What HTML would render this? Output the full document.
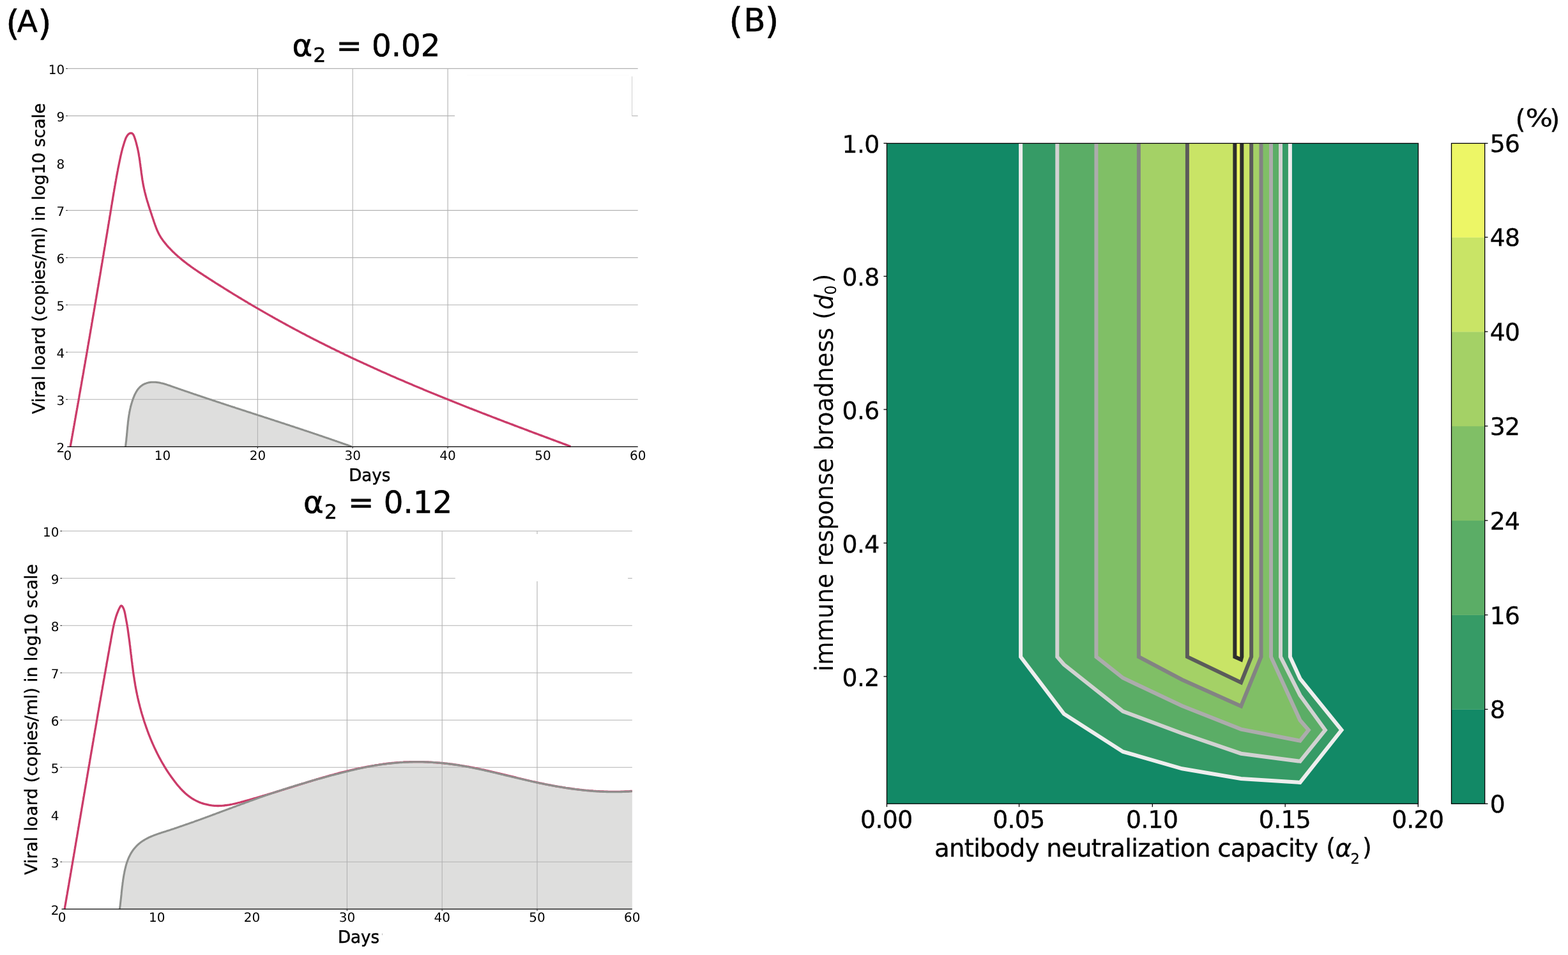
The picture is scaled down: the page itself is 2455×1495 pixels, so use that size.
<!DOCTYPE html>
<html lang="en"><head><meta charset="utf-8"><title>Figure</title>
<style>html,body{margin:0;padding:0;background:#fff;overflow:hidden;}svg{display:block;}text{font-family:"DejaVu Sans", "Liberation Sans", sans-serif;fill:#000;}</style></head><body>
<svg width="2455" height="1495" viewBox="0 0 2455 1495" text-rendering="geometricPrecision">
<rect x="0" y="0" width="2455" height="1495" fill="#ffffff"/>
<g>
<path d="M196.4,699.3 L196.5,698.4 L196.7,697.5 L196.8,696.6 L196.9,695.7 L197.0,694.8 L197.1,693.9 L197.2,693.0 L197.3,692.1 L197.5,691.2 L197.6,690.3 L197.7,689.4 L197.8,688.5 L197.8,687.6 L197.9,686.7 L198.0,685.8 L198.1,684.9 L198.2,684.0 L198.3,683.1 L198.4,682.3 L198.5,681.4 L198.6,680.5 L198.6,679.6 L198.7,678.7 L198.8,677.8 L198.9,676.9 L199.0,676.0 L199.0,675.1 L199.1,674.3 L199.2,673.4 L199.3,672.5 L199.4,671.6 L199.5,670.7 L199.5,669.8 L199.6,668.9 L199.7,668.1 L199.8,667.2 L199.9,666.3 L200.0,665.4 L200.1,664.5 L200.2,663.6 L200.3,662.8 L200.3,661.9 L200.4,661.0 L200.5,660.1 L200.7,659.2 L200.8,658.4 L200.9,657.5 L201.0,656.6 L201.1,655.7 L201.2,654.8 L201.3,654.0 L201.5,653.1 L201.6,652.2 L201.7,651.3 L201.8,650.5 L202.0,649.6 L202.1,648.7 L202.3,647.8 L202.4,647.0 L202.6,646.1 L202.7,645.2 L202.9,644.3 L203.1,643.4 L203.3,642.6 L203.4,641.7 L203.6,640.8 L203.8,639.9 L204.0,639.1 L204.2,638.2 L204.4,637.3 L204.6,636.5 L204.9,635.6 L205.1,634.7 L205.3,633.8 L205.6,633.0 L205.8,632.1 L206.1,631.2 L206.3,630.3 L206.6,629.5 L206.9,628.6 L207.2,627.7 L207.5,626.8 L207.7,626.0 L208.1,625.1 L208.4,624.2 L208.7,623.4 L209.0,622.5 L209.4,621.6 L209.7,620.8 L210.1,619.9 L210.5,619.0 L210.8,618.2 L211.2,617.3 L211.6,616.5 L212.1,615.7 L212.5,614.9 L212.9,614.1 L213.4,613.3 L213.9,612.5 L214.3,611.7 L214.8,611.0 L215.3,610.2 L215.9,609.5 L216.4,608.8 L217.0,608.1 L217.6,607.5 L218.2,606.8 L218.8,606.2 L219.4,605.6 L220.1,605.0 L220.7,604.4 L221.4,603.9 L222.1,603.4 L222.8,602.9 L223.6,602.4 L224.3,602.0 L225.1,601.6 L225.9,601.2 L226.7,600.8 L227.5,600.5 L228.4,600.2 L229.2,599.9 L230.0,599.6 L230.9,599.4 L231.7,599.1 L232.6,598.9 L233.4,598.8 L234.3,598.6 L235.1,598.5 L236.0,598.4 L236.8,598.3 L237.7,598.2 L238.5,598.2 L239.4,598.2 L240.2,598.2 L241.1,598.2 L242.0,598.2 L242.8,598.2 L243.7,598.3 L244.5,598.4 L245.4,598.5 L246.3,598.6 L247.1,598.7 L248.0,598.8 L248.9,599.0 L249.7,599.1 L250.6,599.3 L251.5,599.5 L252.3,599.7 L253.2,599.9 L254.1,600.1 L254.9,600.3 L255.8,600.6 L256.7,600.8 L257.5,601.0 L258.4,601.3 L259.3,601.6 L260.1,601.8 L261.0,602.1 L261.9,602.4 L262.7,602.7 L263.6,603.0 L264.5,603.3 L265.3,603.5 L266.2,603.8 L267.1,604.1 L268.0,604.5 L268.8,604.8 L269.7,605.1 L270.6,605.4 L271.4,605.7 L272.3,606.0 L273.2,606.3 L274.0,606.6 L274.9,606.9 L275.8,607.2 L276.6,607.5 L277.5,607.8 L278.4,608.1 L279.2,608.4 L280.1,608.7 L280.9,609.0 L281.8,609.3 L282.7,609.6 L283.5,609.9 L284.4,610.2 L285.3,610.5 L286.1,610.8 L287.0,611.1 L287.9,611.4 L288.7,611.7 L289.6,612.0 L290.4,612.3 L291.3,612.6 L292.2,612.9 L293.0,613.1 L293.9,613.4 L294.7,613.7 L295.6,614.0 L296.5,614.3 L297.3,614.6 L298.2,614.9 L299.0,615.2 L299.9,615.5 L300.7,615.8 L301.6,616.1 L302.5,616.4 L303.3,616.7 L304.2,617.0 L305.0,617.2 L305.9,617.5 L306.7,617.8 L307.6,618.1 L308.5,618.4 L309.3,618.7 L310.2,619.0 L311.0,619.3 L311.9,619.6 L312.7,619.8 L313.6,620.1 L314.4,620.4 L315.3,620.7 L316.2,621.0 L317.0,621.3 L317.9,621.6 L318.7,621.9 L319.6,622.1 L320.4,622.4 L321.3,622.7 L322.1,623.0 L323.0,623.3 L323.8,623.6 L324.7,623.9 L325.5,624.1 L326.4,624.4 L327.2,624.7 L328.1,625.0 L328.9,625.3 L329.8,625.6 L330.6,625.8 L331.5,626.1 L332.3,626.4 L333.2,626.7 L334.0,627.0 L334.9,627.3 L335.7,627.5 L336.6,627.8 L337.4,628.1 L338.3,628.4 L339.1,628.7 L340.0,628.9 L340.8,629.2 L341.7,629.5 L342.5,629.8 L343.4,630.1 L344.2,630.3 L345.1,630.6 L345.9,630.9 L346.8,631.2 L347.6,631.5 L348.5,631.7 L349.3,632.0 L350.1,632.3 L351.0,632.6 L351.8,632.9 L352.7,633.1 L353.5,633.4 L354.4,633.7 L355.2,634.0 L356.1,634.2 L356.9,634.5 L357.8,634.8 L358.6,635.1 L359.5,635.4 L360.3,635.6 L361.1,635.9 L362.0,636.2 L362.8,636.5 L363.7,636.7 L364.5,637.0 L365.4,637.3 L366.2,637.6 L367.1,637.8 L367.9,638.1 L368.7,638.4 L369.6,638.7 L370.4,638.9 L371.3,639.2 L372.1,639.5 L373.0,639.8 L373.8,640.0 L374.6,640.3 L375.5,640.6 L376.3,640.9 L377.2,641.1 L378.0,641.4 L378.9,641.7 L379.7,642.0 L380.5,642.2 L381.4,642.5 L382.2,642.8 L383.1,643.1 L383.9,643.3 L384.8,643.6 L385.6,643.9 L386.4,644.2 L387.3,644.4 L388.1,644.7 L389.0,645.0 L389.8,645.3 L390.7,645.5 L391.5,645.8 L392.3,646.1 L393.2,646.3 L394.0,646.6 L394.9,646.9 L395.7,647.2 L396.6,647.4 L397.4,647.7 L398.2,648.0 L399.1,648.3 L399.9,648.5 L400.8,648.8 L401.6,649.1 L402.4,649.4 L403.3,649.6 L404.1,649.9 L405.0,650.2 L405.8,650.4 L406.7,650.7 L407.5,651.0 L408.3,651.3 L409.2,651.5 L410.0,651.8 L410.9,652.1 L411.7,652.4 L412.5,652.6 L413.4,652.9 L414.2,653.2 L415.1,653.5 L415.9,653.7 L416.8,654.0 L417.6,654.3 L418.4,654.6 L419.3,654.8 L420.1,655.1 L421.0,655.4 L421.8,655.6 L422.7,655.9 L423.5,656.2 L424.3,656.5 L425.2,656.7 L426.0,657.0 L426.9,657.3 L427.7,657.6 L428.5,657.8 L429.4,658.1 L430.2,658.4 L431.1,658.7 L431.9,658.9 L432.8,659.2 L433.6,659.5 L434.4,659.8 L435.3,660.0 L436.1,660.3 L437.0,660.6 L437.8,660.9 L438.7,661.1 L439.5,661.4 L440.3,661.7 L441.2,662.0 L442.0,662.2 L442.9,662.5 L443.7,662.8 L444.6,663.1 L445.4,663.3 L446.2,663.6 L447.1,663.9 L447.9,664.2 L448.8,664.4 L449.6,664.7 L450.5,665.0 L451.3,665.3 L452.2,665.6 L453.0,665.8 L453.8,666.1 L454.7,666.4 L455.5,666.7 L456.4,666.9 L457.2,667.2 L458.1,667.5 L458.9,667.8 L459.8,668.1 L460.6,668.3 L461.4,668.6 L462.3,668.9 L463.1,669.2 L464.0,669.5 L464.8,669.7 L465.7,670.0 L466.5,670.3 L467.4,670.6 L468.2,670.9 L469.1,671.1 L469.9,671.4 L470.8,671.7 L471.6,672.0 L472.5,672.3 L473.3,672.5 L474.1,672.8 L475.0,673.1 L475.8,673.4 L476.7,673.7 L477.5,673.9 L478.4,674.2 L479.2,674.5 L480.1,674.8 L480.9,675.1 L481.8,675.4 L482.6,675.6 L483.5,675.9 L484.3,676.2 L485.2,676.5 L486.0,676.8 L486.9,677.1 L487.7,677.4 L488.6,677.6 L489.4,677.9 L490.3,678.2 L491.1,678.5 L492.0,678.8 L492.8,679.1 L493.7,679.4 L494.5,679.6 L495.4,679.9 L496.2,680.2 L497.1,680.5 L497.9,680.8 L498.8,681.1 L499.6,681.4 L500.5,681.7 L501.4,682.0 L502.2,682.2 L503.1,682.5 L503.9,682.8 L504.8,683.1 L505.6,683.4 L506.5,683.7 L507.3,684.0 L508.2,684.3 L509.0,684.6 L509.9,684.9 L510.8,685.2 L511.6,685.5 L512.5,685.7 L513.3,686.0 L514.2,686.3 L515.0,686.6 L515.9,686.9 L516.8,687.2 L517.6,687.5 L518.5,687.8 L519.3,688.1 L520.2,688.4 L521.0,688.7 L521.9,689.0 L522.8,689.3 L523.6,689.6 L524.5,689.9 L525.3,690.2 L526.2,690.5 L527.1,690.8 L527.9,691.1 L528.8,691.4 L529.6,691.7 L530.5,692.0 L531.4,692.3 L532.2,692.6 L533.1,692.9 L534.0,693.2 L534.8,693.5 L535.7,693.8 L536.5,694.1 L537.4,694.4 L538.3,694.7 L539.1,695.0 L540.0,695.3 L540.9,695.6 L541.7,695.9 L542.6,696.2 L543.5,696.5 L544.3,696.8 L545.2,697.1 L546.1,697.5 L546.9,697.8 L547.8,698.1 L548.7,698.4 L549.5,698.7 L550.4,699.0 L550.4,699.3 L196.4,699.3Z" fill="#dededd" stroke="none"/>
<line x1="105.8" y1="625.3" x2="998.7" y2="625.3" stroke="#b2b2b2" stroke-width="1.1"/>
<line x1="105.8" y1="551.3" x2="998.7" y2="551.3" stroke="#b2b2b2" stroke-width="1.1"/>
<line x1="105.8" y1="477.3" x2="998.7" y2="477.3" stroke="#b2b2b2" stroke-width="1.1"/>
<line x1="105.8" y1="403.4" x2="998.7" y2="403.4" stroke="#b2b2b2" stroke-width="1.1"/>
<line x1="105.8" y1="329.4" x2="998.7" y2="329.4" stroke="#b2b2b2" stroke-width="1.1"/>
<line x1="105.8" y1="181.4" x2="712.0" y2="181.4" stroke="#b2b2b2" stroke-width="1.1"/>
<line x1="989.2" y1="181.4" x2="998.7" y2="181.4" stroke="#b2b2b2" stroke-width="1.1"/>
<line x1="105.8" y1="107.4" x2="998.7" y2="107.4" stroke="#b2b2b2" stroke-width="1.1"/>
<line x1="403.4" y1="107.4" x2="403.4" y2="699.3" stroke="#b2b2b2" stroke-width="1.1"/>
<line x1="552.2" y1="107.4" x2="552.2" y2="699.3" stroke="#b2b2b2" stroke-width="1.1"/>
<line x1="701.1" y1="107.4" x2="701.1" y2="699.3" stroke="#b2b2b2" stroke-width="1.1"/>
<line x1="989.6" y1="119.6" x2="989.6" y2="181.4" stroke="#cfcfcf" stroke-width="1"/>
<line x1="731" y1="117.5" x2="985" y2="117.5" stroke="#fbfbfb" stroke-width="1"/>
<path d="M110.1,699.3 L110.5,697.3 L110.8,695.3 L111.2,693.4 L111.5,691.4 L111.9,689.4 L112.2,687.4 L112.6,685.5 L112.9,683.5 L113.3,681.5 L113.6,679.5 L114.0,677.6 L114.3,675.6 L114.7,673.6 L115.0,671.6 L115.4,669.6 L115.7,667.7 L116.1,665.7 L116.4,663.7 L116.8,661.7 L117.1,659.8 L117.5,657.8 L117.8,655.8 L118.2,653.8 L118.5,651.9 L118.9,649.9 L119.2,647.9 L119.6,645.9 L119.9,644.0 L120.3,642.0 L120.6,640.0 L121.0,638.0 L121.3,636.1 L121.7,634.1 L122.0,632.1 L122.4,630.1 L122.7,628.2 L123.1,626.2 L123.4,624.2 L123.8,622.2 L124.1,620.3 L124.4,618.3 L124.8,616.3 L125.1,614.4 L125.5,612.4 L125.8,610.4 L126.2,608.4 L126.5,606.5 L126.9,604.5 L127.2,602.5 L127.6,600.5 L127.9,598.6 L128.2,596.6 L128.6,594.6 L128.9,592.6 L129.3,590.7 L129.6,588.7 L130.0,586.7 L130.3,584.7 L130.7,582.8 L131.0,580.8 L131.3,578.8 L131.7,576.8 L132.0,574.9 L132.4,572.9 L132.7,570.9 L133.1,569.0 L133.4,567.0 L133.7,565.0 L134.1,563.0 L134.4,561.1 L134.8,559.1 L135.1,557.1 L135.5,555.1 L135.8,553.2 L136.1,551.2 L136.5,549.2 L136.8,547.2 L137.2,545.3 L137.5,543.3 L137.8,541.3 L138.2,539.3 L138.5,537.4 L138.9,535.4 L139.2,533.4 L139.5,531.5 L139.9,529.5 L140.2,527.5 L140.6,525.5 L140.9,523.6 L141.2,521.6 L141.6,519.6 L141.9,517.6 L142.2,515.7 L142.6,513.7 L142.9,511.7 L143.3,509.7 L143.6,507.8 L143.9,505.8 L144.3,503.8 L144.6,501.8 L144.9,499.9 L145.3,497.9 L145.6,495.9 L146.0,493.9 L146.3,492.0 L146.6,490.0 L147.0,488.0 L147.3,486.0 L147.6,484.1 L148.0,482.1 L148.3,480.1 L148.6,478.1 L149.0,476.2 L149.3,474.2 L149.7,472.2 L150.0,470.2 L150.3,468.3 L150.7,466.3 L151.0,464.3 L151.3,462.3 L151.7,460.4 L152.0,458.4 L152.3,456.4 L152.7,454.4 L153.0,452.5 L153.3,450.5 L153.7,448.5 L154.0,446.5 L154.3,444.6 L154.7,442.6 L155.0,440.6 L155.3,438.6 L155.7,436.7 L156.0,434.7 L156.3,432.7 L156.7,430.7 L157.0,428.8 L157.3,426.8 L157.7,424.8 L158.0,422.8 L158.3,420.8 L158.6,418.9 L159.0,416.9 L159.3,414.9 L159.6,412.9 L160.0,411.0 L160.3,409.0 L160.6,407.0 L161.0,405.0 L161.3,403.0 L161.6,401.1 L162.0,399.1 L162.3,397.1 L162.6,395.1 L162.9,393.1 L163.3,391.2 L163.6,389.2 L163.9,387.2 L164.3,385.2 L164.6,383.2 L164.9,381.3 L165.3,379.3 L165.6,377.3 L165.9,375.3 L166.2,373.3 L166.6,371.4 L166.9,369.4 L167.2,367.4 L167.6,365.4 L167.9,363.4 L168.2,361.5 L168.5,359.5 L168.9,357.5 L169.2,355.5 L169.5,353.5 L169.8,351.5 L170.2,349.6 L170.5,347.6 L170.8,345.6 L171.2,343.6 L171.5,341.6 L171.8,339.6 L172.1,337.7 L172.5,335.7 L172.8,333.7 L173.1,331.7 L173.4,329.7 L173.8,327.7 L174.1,325.8 L174.4,323.8 L174.7,321.8 L175.1,319.8 L175.4,317.8 L175.7,315.8 L176.1,313.9 L176.4,311.9 L176.7,309.9 L177.0,307.9 L177.4,305.9 L177.7,303.9 L178.0,302.0 L178.4,300.0 L178.7,298.0 L179.0,296.0 L179.4,294.1 L179.7,292.1 L180.1,290.1 L180.4,288.1 L180.8,286.2 L181.1,284.2 L181.5,282.2 L181.8,280.3 L182.2,278.3 L182.5,276.3 L182.9,274.4 L183.3,272.4 L183.6,270.5 L184.0,268.5 L184.4,266.6 L184.7,264.6 L185.1,262.7 L185.5,260.7 L185.9,258.8 L186.3,256.9 L186.7,254.9 L187.1,253.0 L187.5,251.1 L187.9,249.2 L188.3,247.2 L188.7,245.3 L189.1,243.4 L189.6,241.5 L190.0,239.5 L190.5,237.6 L191.0,235.6 L191.5,233.7 L192.0,231.7 L192.6,229.7 L193.2,227.7 L193.8,225.7 L194.5,223.6 L195.1,221.5 L195.9,219.4 L196.6,217.3 L197.5,215.3 L198.5,213.5 L199.6,211.8 L200.8,210.4 L202.2,209.3 L203.8,208.5 L205.4,208.3 L206.7,208.7 L207.9,209.6 L208.9,211.0 L209.7,212.7 L210.5,214.6 L211.1,216.6 L211.8,218.6 L212.4,220.6 L213.0,222.6 L213.5,224.6 L214.0,226.6 L214.5,228.6 L215.0,230.6 L215.5,232.5 L215.9,234.5 L216.3,236.5 L216.7,238.5 L217.1,240.5 L217.4,242.5 L217.7,244.5 L218.1,246.5 L218.4,248.5 L218.7,250.4 L219.0,252.4 L219.2,254.4 L219.5,256.4 L219.8,258.4 L220.0,260.4 L220.3,262.3 L220.6,264.3 L220.8,266.3 L221.1,268.3 L221.3,270.2 L221.6,272.2 L221.9,274.2 L222.2,276.1 L222.4,278.1 L222.7,280.1 L223.0,282.0 L223.4,284.0 L223.7,286.0 L224.0,287.9 L224.4,289.9 L224.8,291.8 L225.2,293.8 L225.6,295.7 L226.1,297.7 L226.5,299.6 L227.0,301.6 L227.5,303.5 L228.0,305.5 L228.5,307.4 L229.0,309.4 L229.6,311.3 L230.1,313.2 L230.7,315.2 L231.3,317.1 L231.9,319.0 L232.5,321.0 L233.1,322.9 L233.7,324.8 L234.3,326.7 L235.0,328.7 L235.6,330.6 L236.2,332.5 L236.9,334.4 L237.5,336.3 L238.1,338.2 L238.8,340.2 L239.4,342.1 L240.1,344.0 L240.7,345.9 L241.3,347.8 L242.0,349.7 L242.6,351.5 L243.3,353.4 L244.0,355.3 L244.7,357.1 L245.4,359.0 L246.2,360.8 L247.0,362.6 L247.9,364.4 L248.8,366.2 L249.7,368.0 L250.7,369.7 L251.7,371.4 L252.8,373.1 L254.0,374.7 L255.2,376.4 L256.4,378.0 L257.7,379.6 L258.9,381.2 L260.2,382.7 L261.5,384.3 L262.9,385.8 L264.2,387.3 L265.6,388.7 L267.0,390.2 L268.4,391.6 L269.8,393.1 L271.2,394.5 L272.7,395.8 L274.1,397.2 L275.6,398.6 L277.1,399.9 L278.5,401.2 L280.1,402.5 L281.6,403.8 L283.1,405.1 L284.6,406.4 L286.2,407.6 L287.8,408.9 L289.3,410.1 L290.9,411.3 L292.5,412.6 L294.1,413.8 L295.7,414.9 L297.3,416.1 L298.9,417.3 L300.6,418.5 L302.2,419.6 L303.8,420.8 L305.5,421.9 L307.1,423.0 L308.8,424.2 L310.5,425.3 L312.1,426.4 L313.8,427.5 L315.5,428.6 L317.2,429.7 L318.8,430.8 L320.5,431.9 L322.2,433.0 L323.9,434.1 L325.6,435.2 L327.3,436.3 L329.0,437.4 L330.6,438.4 L332.3,439.5 L334.0,440.6 L335.7,441.7 L337.4,442.8 L339.1,443.8 L340.8,444.9 L342.5,446.0 L344.2,447.0 L345.9,448.1 L347.6,449.2 L349.3,450.2 L351.0,451.3 L352.7,452.4 L354.4,453.4 L356.1,454.5 L357.8,455.5 L359.5,456.6 L361.2,457.7 L362.9,458.7 L364.7,459.8 L366.4,460.8 L368.1,461.8 L369.8,462.9 L371.5,463.9 L373.2,465.0 L374.9,466.0 L376.7,467.0 L378.4,468.1 L380.1,469.1 L381.8,470.1 L383.5,471.2 L385.3,472.2 L387.0,473.2 L388.7,474.3 L390.4,475.3 L392.2,476.3 L393.9,477.3 L395.6,478.3 L397.3,479.3 L399.1,480.4 L400.8,481.4 L402.5,482.4 L404.3,483.4 L406.0,484.4 L407.7,485.4 L409.5,486.4 L411.2,487.4 L412.9,488.4 L414.7,489.4 L416.4,490.4 L418.2,491.4 L419.9,492.4 L421.7,493.4 L423.4,494.4 L425.1,495.3 L426.9,496.3 L428.6,497.3 L430.4,498.3 L432.1,499.3 L433.9,500.2 L435.6,501.2 L437.4,502.2 L439.1,503.2 L440.9,504.1 L442.7,505.1 L444.4,506.1 L446.2,507.0 L447.9,508.0 L449.7,509.0 L451.4,509.9 L453.2,510.9 L455.0,511.8 L456.7,512.8 L458.5,513.7 L460.3,514.7 L462.0,515.6 L463.8,516.6 L465.6,517.5 L467.3,518.4 L469.1,519.4 L470.9,520.3 L472.6,521.3 L474.4,522.2 L476.2,523.1 L478.0,524.0 L479.7,525.0 L481.5,525.9 L483.3,526.8 L485.1,527.7 L486.9,528.7 L488.6,529.6 L490.4,530.5 L492.2,531.4 L494.0,532.3 L495.8,533.2 L497.6,534.1 L499.3,535.0 L501.1,535.9 L502.9,536.8 L504.7,537.7 L506.5,538.6 L508.3,539.5 L510.1,540.4 L511.9,541.3 L513.7,542.2 L515.5,543.1 L517.3,544.0 L519.1,544.9 L520.9,545.8 L522.7,546.6 L524.5,547.5 L526.3,548.4 L528.1,549.3 L529.9,550.1 L531.7,551.0 L533.5,551.9 L535.3,552.8 L537.1,553.6 L538.9,554.5 L540.7,555.4 L542.5,556.2 L544.3,557.1 L546.1,557.9 L547.9,558.8 L549.7,559.7 L551.6,560.5 L553.4,561.4 L555.2,562.2 L557.0,563.1 L558.8,563.9 L560.6,564.8 L562.4,565.6 L564.3,566.4 L566.1,567.3 L567.9,568.1 L569.7,569.0 L571.5,569.8 L573.4,570.6 L575.2,571.5 L577.0,572.3 L578.8,573.1 L580.7,574.0 L582.5,574.8 L584.3,575.6 L586.1,576.4 L588.0,577.3 L589.8,578.1 L591.6,578.9 L593.4,579.7 L595.3,580.6 L597.1,581.4 L598.9,582.2 L600.8,583.0 L602.6,583.8 L604.4,584.6 L606.3,585.4 L608.1,586.2 L609.9,587.0 L611.8,587.9 L613.6,588.7 L615.5,589.5 L617.3,590.3 L619.1,591.1 L621.0,591.9 L622.8,592.7 L624.6,593.5 L626.5,594.2 L628.3,595.0 L630.2,595.8 L632.0,596.6 L633.9,597.4 L635.7,598.2 L637.5,599.0 L639.4,599.8 L641.2,600.6 L643.1,601.3 L644.9,602.1 L646.8,602.9 L648.6,603.7 L650.5,604.5 L652.3,605.2 L654.2,606.0 L656.0,606.8 L657.9,607.6 L659.7,608.3 L661.6,609.1 L663.4,609.9 L665.3,610.7 L667.1,611.4 L669.0,612.2 L670.8,613.0 L672.7,613.7 L674.5,614.5 L676.4,615.3 L678.3,616.0 L680.1,616.8 L682.0,617.5 L683.8,618.3 L685.7,619.1 L687.5,619.8 L689.4,620.6 L691.3,621.3 L693.1,622.1 L695.0,622.8 L696.8,623.6 L698.7,624.3 L700.6,625.1 L702.4,625.8 L704.3,626.6 L706.1,627.3 L708.0,628.1 L709.9,628.8 L711.7,629.6 L713.6,630.3 L715.5,631.1 L717.3,631.8 L719.2,632.5 L721.0,633.3 L722.9,634.0 L724.8,634.8 L726.6,635.5 L728.5,636.2 L730.4,637.0 L732.2,637.7 L734.1,638.4 L736.0,639.2 L737.8,639.9 L739.7,640.6 L741.6,641.4 L743.5,642.1 L745.3,642.8 L747.2,643.6 L749.1,644.3 L750.9,645.0 L752.8,645.7 L754.7,646.5 L756.5,647.2 L758.4,647.9 L760.3,648.6 L762.2,649.4 L764.0,650.1 L765.9,650.8 L767.8,651.5 L769.6,652.3 L771.5,653.0 L773.4,653.7 L775.3,654.4 L777.1,655.1 L779.0,655.9 L780.9,656.6 L782.7,657.3 L784.6,658.0 L786.5,658.7 L788.4,659.4 L790.2,660.2 L792.1,660.9 L794.0,661.6 L795.9,662.3 L797.7,663.0 L799.6,663.7 L801.5,664.4 L803.4,665.1 L805.2,665.9 L807.1,666.6 L809.0,667.3 L810.9,668.0 L812.7,668.7 L814.6,669.4 L816.5,670.1 L818.4,670.8 L820.2,671.5 L822.1,672.2 L824.0,672.9 L825.9,673.6 L827.7,674.4 L829.6,675.1 L831.5,675.8 L833.4,676.5 L835.2,677.2 L837.1,677.9 L839.0,678.6 L840.9,679.3 L842.8,680.0 L844.6,680.7 L846.5,681.4 L848.4,682.1 L850.3,682.8 L852.1,683.5 L854.0,684.2 L855.9,684.9 L857.8,685.6 L859.6,686.3 L861.5,687.0 L863.4,687.7 L865.3,688.4 L867.1,689.1 L869.0,689.8 L870.9,690.5 L872.8,691.2 L874.6,691.9 L876.5,692.6 L878.4,693.3 L880.3,694.0 L882.1,694.7 L884.0,695.4 L885.9,696.1 L887.8,696.8 L889.7,697.5 L891.5,698.2 L893.4,698.9" fill="none" stroke="#cb3b69" stroke-width="3.3" stroke-linejoin="round"/>
<path d="M196.4,699.3 L196.5,698.4 L196.7,697.5 L196.8,696.6 L196.9,695.7 L197.0,694.8 L197.1,693.9 L197.2,693.0 L197.3,692.1 L197.5,691.2 L197.6,690.3 L197.7,689.4 L197.8,688.5 L197.8,687.6 L197.9,686.7 L198.0,685.8 L198.1,684.9 L198.2,684.0 L198.3,683.1 L198.4,682.3 L198.5,681.4 L198.6,680.5 L198.6,679.6 L198.7,678.7 L198.8,677.8 L198.9,676.9 L199.0,676.0 L199.0,675.1 L199.1,674.3 L199.2,673.4 L199.3,672.5 L199.4,671.6 L199.5,670.7 L199.5,669.8 L199.6,668.9 L199.7,668.1 L199.8,667.2 L199.9,666.3 L200.0,665.4 L200.1,664.5 L200.2,663.6 L200.3,662.8 L200.3,661.9 L200.4,661.0 L200.5,660.1 L200.7,659.2 L200.8,658.4 L200.9,657.5 L201.0,656.6 L201.1,655.7 L201.2,654.8 L201.3,654.0 L201.5,653.1 L201.6,652.2 L201.7,651.3 L201.8,650.5 L202.0,649.6 L202.1,648.7 L202.3,647.8 L202.4,647.0 L202.6,646.1 L202.7,645.2 L202.9,644.3 L203.1,643.4 L203.3,642.6 L203.4,641.7 L203.6,640.8 L203.8,639.9 L204.0,639.1 L204.2,638.2 L204.4,637.3 L204.6,636.5 L204.9,635.6 L205.1,634.7 L205.3,633.8 L205.6,633.0 L205.8,632.1 L206.1,631.2 L206.3,630.3 L206.6,629.5 L206.9,628.6 L207.2,627.7 L207.5,626.8 L207.7,626.0 L208.1,625.1 L208.4,624.2 L208.7,623.4 L209.0,622.5 L209.4,621.6 L209.7,620.8 L210.1,619.9 L210.5,619.0 L210.8,618.2 L211.2,617.3 L211.6,616.5 L212.1,615.7 L212.5,614.9 L212.9,614.1 L213.4,613.3 L213.9,612.5 L214.3,611.7 L214.8,611.0 L215.3,610.2 L215.9,609.5 L216.4,608.8 L217.0,608.1 L217.6,607.5 L218.2,606.8 L218.8,606.2 L219.4,605.6 L220.1,605.0 L220.7,604.4 L221.4,603.9 L222.1,603.4 L222.8,602.9 L223.6,602.4 L224.3,602.0 L225.1,601.6 L225.9,601.2 L226.7,600.8 L227.5,600.5 L228.4,600.2 L229.2,599.9 L230.0,599.6 L230.9,599.4 L231.7,599.1 L232.6,598.9 L233.4,598.8 L234.3,598.6 L235.1,598.5 L236.0,598.4 L236.8,598.3 L237.7,598.2 L238.5,598.2 L239.4,598.2 L240.2,598.2 L241.1,598.2 L242.0,598.2 L242.8,598.2 L243.7,598.3 L244.5,598.4 L245.4,598.5 L246.3,598.6 L247.1,598.7 L248.0,598.8 L248.9,599.0 L249.7,599.1 L250.6,599.3 L251.5,599.5 L252.3,599.7 L253.2,599.9 L254.1,600.1 L254.9,600.3 L255.8,600.6 L256.7,600.8 L257.5,601.0 L258.4,601.3 L259.3,601.6 L260.1,601.8 L261.0,602.1 L261.9,602.4 L262.7,602.7 L263.6,603.0 L264.5,603.3 L265.3,603.5 L266.2,603.8 L267.1,604.1 L268.0,604.5 L268.8,604.8 L269.7,605.1 L270.6,605.4 L271.4,605.7 L272.3,606.0 L273.2,606.3 L274.0,606.6 L274.9,606.9 L275.8,607.2 L276.6,607.5 L277.5,607.8 L278.4,608.1 L279.2,608.4 L280.1,608.7 L280.9,609.0 L281.8,609.3 L282.7,609.6 L283.5,609.9 L284.4,610.2 L285.3,610.5 L286.1,610.8 L287.0,611.1 L287.9,611.4 L288.7,611.7 L289.6,612.0 L290.4,612.3 L291.3,612.6 L292.2,612.9 L293.0,613.1 L293.9,613.4 L294.7,613.7 L295.6,614.0 L296.5,614.3 L297.3,614.6 L298.2,614.9 L299.0,615.2 L299.9,615.5 L300.7,615.8 L301.6,616.1 L302.5,616.4 L303.3,616.7 L304.2,617.0 L305.0,617.2 L305.9,617.5 L306.7,617.8 L307.6,618.1 L308.5,618.4 L309.3,618.7 L310.2,619.0 L311.0,619.3 L311.9,619.6 L312.7,619.8 L313.6,620.1 L314.4,620.4 L315.3,620.7 L316.2,621.0 L317.0,621.3 L317.9,621.6 L318.7,621.9 L319.6,622.1 L320.4,622.4 L321.3,622.7 L322.1,623.0 L323.0,623.3 L323.8,623.6 L324.7,623.9 L325.5,624.1 L326.4,624.4 L327.2,624.7 L328.1,625.0 L328.9,625.3 L329.8,625.6 L330.6,625.8 L331.5,626.1 L332.3,626.4 L333.2,626.7 L334.0,627.0 L334.9,627.3 L335.7,627.5 L336.6,627.8 L337.4,628.1 L338.3,628.4 L339.1,628.7 L340.0,628.9 L340.8,629.2 L341.7,629.5 L342.5,629.8 L343.4,630.1 L344.2,630.3 L345.1,630.6 L345.9,630.9 L346.8,631.2 L347.6,631.5 L348.5,631.7 L349.3,632.0 L350.1,632.3 L351.0,632.6 L351.8,632.9 L352.7,633.1 L353.5,633.4 L354.4,633.7 L355.2,634.0 L356.1,634.2 L356.9,634.5 L357.8,634.8 L358.6,635.1 L359.5,635.4 L360.3,635.6 L361.1,635.9 L362.0,636.2 L362.8,636.5 L363.7,636.7 L364.5,637.0 L365.4,637.3 L366.2,637.6 L367.1,637.8 L367.9,638.1 L368.7,638.4 L369.6,638.7 L370.4,638.9 L371.3,639.2 L372.1,639.5 L373.0,639.8 L373.8,640.0 L374.6,640.3 L375.5,640.6 L376.3,640.9 L377.2,641.1 L378.0,641.4 L378.9,641.7 L379.7,642.0 L380.5,642.2 L381.4,642.5 L382.2,642.8 L383.1,643.1 L383.9,643.3 L384.8,643.6 L385.6,643.9 L386.4,644.2 L387.3,644.4 L388.1,644.7 L389.0,645.0 L389.8,645.3 L390.7,645.5 L391.5,645.8 L392.3,646.1 L393.2,646.3 L394.0,646.6 L394.9,646.9 L395.7,647.2 L396.6,647.4 L397.4,647.7 L398.2,648.0 L399.1,648.3 L399.9,648.5 L400.8,648.8 L401.6,649.1 L402.4,649.4 L403.3,649.6 L404.1,649.9 L405.0,650.2 L405.8,650.4 L406.7,650.7 L407.5,651.0 L408.3,651.3 L409.2,651.5 L410.0,651.8 L410.9,652.1 L411.7,652.4 L412.5,652.6 L413.4,652.9 L414.2,653.2 L415.1,653.5 L415.9,653.7 L416.8,654.0 L417.6,654.3 L418.4,654.6 L419.3,654.8 L420.1,655.1 L421.0,655.4 L421.8,655.6 L422.7,655.9 L423.5,656.2 L424.3,656.5 L425.2,656.7 L426.0,657.0 L426.9,657.3 L427.7,657.6 L428.5,657.8 L429.4,658.1 L430.2,658.4 L431.1,658.7 L431.9,658.9 L432.8,659.2 L433.6,659.5 L434.4,659.8 L435.3,660.0 L436.1,660.3 L437.0,660.6 L437.8,660.9 L438.7,661.1 L439.5,661.4 L440.3,661.7 L441.2,662.0 L442.0,662.2 L442.9,662.5 L443.7,662.8 L444.6,663.1 L445.4,663.3 L446.2,663.6 L447.1,663.9 L447.9,664.2 L448.8,664.4 L449.6,664.7 L450.5,665.0 L451.3,665.3 L452.2,665.6 L453.0,665.8 L453.8,666.1 L454.7,666.4 L455.5,666.7 L456.4,666.9 L457.2,667.2 L458.1,667.5 L458.9,667.8 L459.8,668.1 L460.6,668.3 L461.4,668.6 L462.3,668.9 L463.1,669.2 L464.0,669.5 L464.8,669.7 L465.7,670.0 L466.5,670.3 L467.4,670.6 L468.2,670.9 L469.1,671.1 L469.9,671.4 L470.8,671.7 L471.6,672.0 L472.5,672.3 L473.3,672.5 L474.1,672.8 L475.0,673.1 L475.8,673.4 L476.7,673.7 L477.5,673.9 L478.4,674.2 L479.2,674.5 L480.1,674.8 L480.9,675.1 L481.8,675.4 L482.6,675.6 L483.5,675.9 L484.3,676.2 L485.2,676.5 L486.0,676.8 L486.9,677.1 L487.7,677.4 L488.6,677.6 L489.4,677.9 L490.3,678.2 L491.1,678.5 L492.0,678.8 L492.8,679.1 L493.7,679.4 L494.5,679.6 L495.4,679.9 L496.2,680.2 L497.1,680.5 L497.9,680.8 L498.8,681.1 L499.6,681.4 L500.5,681.7 L501.4,682.0 L502.2,682.2 L503.1,682.5 L503.9,682.8 L504.8,683.1 L505.6,683.4 L506.5,683.7 L507.3,684.0 L508.2,684.3 L509.0,684.6 L509.9,684.9 L510.8,685.2 L511.6,685.5 L512.5,685.7 L513.3,686.0 L514.2,686.3 L515.0,686.6 L515.9,686.9 L516.8,687.2 L517.6,687.5 L518.5,687.8 L519.3,688.1 L520.2,688.4 L521.0,688.7 L521.9,689.0 L522.8,689.3 L523.6,689.6 L524.5,689.9 L525.3,690.2 L526.2,690.5 L527.1,690.8 L527.9,691.1 L528.8,691.4 L529.6,691.7 L530.5,692.0 L531.4,692.3 L532.2,692.6 L533.1,692.9 L534.0,693.2 L534.8,693.5 L535.7,693.8 L536.5,694.1 L537.4,694.4 L538.3,694.7 L539.1,695.0 L540.0,695.3 L540.9,695.6 L541.7,695.9 L542.6,696.2 L543.5,696.5 L544.3,696.8 L545.2,697.1 L546.1,697.5 L546.9,697.8 L547.8,698.1 L548.7,698.4 L549.5,698.7 L550.4,699.0" fill="none" stroke="#8e908d" stroke-width="3.1" stroke-linejoin="round"/>
<line x1="105.3" y1="699.3" x2="998.7" y2="699.3" stroke="#000" stroke-width="1.25"/>
<text x="101.3" y="707.7" font-size="20" text-anchor="end">2</text>
<line x1="103.2" y1="625.3" x2="105.8" y2="625.3" stroke="#262626" stroke-width="1.1"/>
<text x="101.3" y="633.7" font-size="20" text-anchor="end">3</text>
<line x1="103.2" y1="551.3" x2="105.8" y2="551.3" stroke="#262626" stroke-width="1.1"/>
<text x="101.3" y="559.7" font-size="20" text-anchor="end">4</text>
<line x1="103.2" y1="477.3" x2="105.8" y2="477.3" stroke="#262626" stroke-width="1.1"/>
<text x="101.3" y="485.7" font-size="20" text-anchor="end">5</text>
<line x1="103.2" y1="403.4" x2="105.8" y2="403.4" stroke="#262626" stroke-width="1.1"/>
<text x="101.3" y="411.8" font-size="20" text-anchor="end">6</text>
<line x1="103.2" y1="329.4" x2="105.8" y2="329.4" stroke="#262626" stroke-width="1.1"/>
<text x="101.3" y="337.8" font-size="20" text-anchor="end">7</text>
<text x="101.3" y="263.8" font-size="20" text-anchor="end">8</text>
<line x1="103.2" y1="181.4" x2="105.8" y2="181.4" stroke="#262626" stroke-width="1.1"/>
<text x="101.3" y="189.8" font-size="20" text-anchor="end">9</text>
<line x1="103.2" y1="107.4" x2="105.8" y2="107.4" stroke="#262626" stroke-width="1.1"/>
<text x="101.3" y="115.8" font-size="20" text-anchor="end">10</text>
<text x="105.8" y="719.6" font-size="20" text-anchor="middle">0</text>
<text x="254.6" y="719.6" font-size="20" text-anchor="middle">10</text>
<line x1="403.4" y1="699.3" x2="403.4" y2="702.1" stroke="#262626" stroke-width="1.1"/>
<text x="403.4" y="719.6" font-size="20" text-anchor="middle">20</text>
<line x1="552.2" y1="699.3" x2="552.2" y2="702.1" stroke="#262626" stroke-width="1.1"/>
<text x="552.2" y="719.6" font-size="20" text-anchor="middle">30</text>
<line x1="701.1" y1="699.3" x2="701.1" y2="702.1" stroke="#262626" stroke-width="1.1"/>
<text x="701.1" y="719.6" font-size="20" text-anchor="middle">40</text>
<text x="849.9" y="719.6" font-size="20" text-anchor="middle">50</text>
<text x="998.7" y="719.6" font-size="20" text-anchor="middle">60</text>
<text transform="translate(578.8,753.0) scale(0.967,1)" font-size="27" text-anchor="middle" stroke="#000" stroke-width="0.5">Days</text>
<text transform="translate(69.9,404.8) rotate(-90)" font-size="26.7" text-anchor="middle" stroke="#000" stroke-width="0.4">Viral loard (copies/ml) in log10 scale</text>
<text y="88.2" font-size="48.2" text-anchor="start" stroke="#000" stroke-width="0.6"><tspan x="457.5">α</tspan><tspan x="490.5" dy="9.0" font-size="31">2</tspan><tspan x="511.1" dy="-9.0"> = 0.02</tspan></text>
</g>
<g>
<path d="M187.4,1423.1 L187.6,1421.3 L187.9,1419.6 L188.1,1417.8 L188.3,1416.0 L188.5,1414.2 L188.7,1412.4 L188.9,1410.7 L189.1,1408.9 L189.3,1407.1 L189.5,1405.3 L189.7,1403.5 L189.9,1401.7 L190.1,1399.9 L190.2,1398.1 L190.4,1396.3 L190.6,1394.5 L190.8,1392.7 L191.0,1390.8 L191.2,1389.0 L191.4,1387.2 L191.7,1385.4 L191.9,1383.6 L192.1,1381.7 L192.4,1379.9 L192.6,1378.1 L192.9,1376.3 L193.2,1374.4 L193.5,1372.6 L193.8,1370.8 L194.1,1368.9 L194.5,1367.1 L194.8,1365.3 L195.2,1363.4 L195.6,1361.6 L196.0,1359.8 L196.5,1358.0 L196.9,1356.2 L197.4,1354.4 L197.9,1352.6 L198.5,1350.8 L199.1,1349.1 L199.7,1347.4 L200.3,1345.7 L201.0,1344.0 L201.7,1342.3 L202.5,1340.7 L203.3,1339.1 L204.1,1337.5 L205.0,1335.9 L205.9,1334.4 L206.9,1332.9 L207.9,1331.4 L208.9,1330.0 L210.0,1328.6 L211.2,1327.3 L212.3,1326.0 L213.5,1324.7 L214.8,1323.4 L216.1,1322.2 L217.4,1321.0 L218.8,1319.9 L220.1,1318.8 L221.6,1317.8 L223.0,1316.8 L224.5,1315.8 L226.0,1314.9 L227.5,1314.0 L229.1,1313.1 L230.6,1312.3 L232.2,1311.5 L233.9,1310.7 L235.5,1310.0 L237.2,1309.3 L238.8,1308.6 L240.5,1307.9 L242.2,1307.2 L243.9,1306.6 L245.7,1306.0 L247.4,1305.4 L249.2,1304.8 L250.9,1304.2 L252.7,1303.6 L254.4,1303.1 L256.2,1302.5 L257.9,1301.9 L259.7,1301.4 L261.5,1300.8 L263.2,1300.2 L265.0,1299.7 L266.7,1299.1 L268.5,1298.5 L270.2,1297.9 L272.0,1297.4 L273.7,1296.8 L275.5,1296.2 L277.2,1295.6 L279.0,1295.0 L280.7,1294.4 L282.4,1293.8 L284.2,1293.2 L285.9,1292.6 L287.6,1292.0 L289.4,1291.4 L291.1,1290.8 L292.8,1290.2 L294.6,1289.6 L296.3,1289.0 L298.0,1288.4 L299.7,1287.8 L301.5,1287.2 L303.2,1286.6 L304.9,1285.9 L306.6,1285.3 L308.3,1284.7 L310.0,1284.1 L311.7,1283.5 L313.5,1282.9 L315.2,1282.2 L316.9,1281.6 L318.6,1281.0 L320.3,1280.4 L322.0,1279.7 L323.7,1279.1 L325.4,1278.5 L327.1,1277.9 L328.8,1277.2 L330.5,1276.6 L332.2,1276.0 L333.9,1275.3 L335.6,1274.7 L337.3,1274.1 L339.0,1273.4 L340.7,1272.8 L342.4,1272.2 L344.1,1271.5 L345.8,1270.9 L347.5,1270.3 L349.2,1269.6 L350.9,1269.0 L352.6,1268.4 L354.3,1267.7 L356.0,1267.1 L357.7,1266.5 L359.4,1265.8 L361.1,1265.2 L362.8,1264.6 L364.5,1263.9 L366.2,1263.3 L367.9,1262.7 L369.6,1262.1 L371.2,1261.4 L372.9,1260.8 L374.6,1260.2 L376.3,1259.5 L378.0,1258.9 L379.7,1258.3 L381.4,1257.7 L383.1,1257.0 L384.8,1256.4 L386.5,1255.8 L388.2,1255.2 L389.9,1254.6 L391.6,1253.9 L393.3,1253.3 L395.0,1252.7 L396.7,1252.1 L398.4,1251.5 L400.1,1250.9 L401.8,1250.2 L403.5,1249.6 L405.2,1249.0 L406.9,1248.4 L408.6,1247.8 L410.3,1247.2 L412.1,1246.6 L413.8,1246.0 L415.5,1245.4 L417.2,1244.8 L418.9,1244.2 L420.6,1243.6 L422.3,1243.0 L424.0,1242.5 L425.8,1241.9 L427.5,1241.3 L429.2,1240.7 L430.9,1240.1 L432.6,1239.6 L434.4,1239.0 L436.1,1238.4 L437.8,1237.8 L439.6,1237.3 L441.3,1236.7 L443.0,1236.1 L444.7,1235.6 L446.5,1235.0 L448.2,1234.5 L449.9,1233.9 L451.7,1233.4 L453.4,1232.8 L455.2,1232.3 L456.9,1231.7 L458.6,1231.2 L460.4,1230.6 L462.1,1230.1 L463.9,1229.6 L465.6,1229.0 L467.4,1228.5 L469.1,1228.0 L470.9,1227.5 L472.6,1226.9 L474.4,1226.4 L476.1,1225.9 L477.9,1225.4 L479.6,1224.9 L481.4,1224.3 L483.1,1223.8 L484.9,1223.3 L486.6,1222.8 L488.4,1222.3 L490.1,1221.8 L491.9,1221.3 L493.7,1220.8 L495.4,1220.3 L497.2,1219.8 L498.9,1219.3 L500.7,1218.9 L502.5,1218.4 L504.2,1217.9 L506.0,1217.4 L507.7,1216.9 L509.5,1216.5 L511.3,1216.0 L513.0,1215.5 L514.8,1215.0 L516.5,1214.6 L518.3,1214.1 L520.1,1213.6 L521.8,1213.2 L523.6,1212.7 L525.3,1212.3 L527.1,1211.8 L528.9,1211.4 L530.6,1210.9 L532.4,1210.5 L534.2,1210.0 L535.9,1209.6 L537.7,1209.1 L539.4,1208.7 L541.2,1208.2 L543.0,1207.8 L544.7,1207.4 L546.5,1206.9 L548.2,1206.5 L550.0,1206.1 L551.8,1205.7 L553.5,1205.3 L555.3,1204.8 L557.0,1204.4 L558.8,1204.0 L560.6,1203.6 L562.3,1203.2 L564.1,1202.8 L565.9,1202.4 L567.6,1202.1 L569.4,1201.7 L571.2,1201.3 L573.0,1201.0 L574.7,1200.6 L576.5,1200.3 L578.3,1199.9 L580.1,1199.6 L581.9,1199.3 L583.6,1198.9 L585.4,1198.6 L587.2,1198.3 L589.0,1198.0 L590.8,1197.7 L592.6,1197.5 L594.4,1197.2 L596.2,1196.9 L598.0,1196.7 L599.8,1196.4 L601.6,1196.2 L603.4,1196.0 L605.2,1195.7 L607.0,1195.5 L608.8,1195.3 L610.6,1195.1 L612.5,1194.9 L614.3,1194.7 L616.1,1194.6 L617.9,1194.4 L619.7,1194.2 L621.5,1194.1 L623.3,1193.9 L625.2,1193.8 L627.0,1193.7 L628.8,1193.6 L630.6,1193.5 L632.4,1193.3 L634.3,1193.3 L636.1,1193.2 L637.9,1193.1 L639.7,1193.0 L641.6,1193.0 L643.4,1192.9 L645.2,1192.9 L647.0,1192.8 L648.8,1192.8 L650.7,1192.8 L652.5,1192.8 L654.3,1192.8 L656.1,1192.8 L658.0,1192.8 L659.8,1192.8 L661.6,1192.8 L663.4,1192.9 L665.2,1192.9 L667.1,1193.0 L668.9,1193.0 L670.7,1193.1 L672.5,1193.2 L674.3,1193.3 L676.2,1193.4 L678.0,1193.5 L679.8,1193.6 L681.6,1193.7 L683.4,1193.8 L685.2,1194.0 L687.0,1194.1 L688.8,1194.3 L690.6,1194.5 L692.5,1194.6 L694.3,1194.8 L696.1,1195.0 L697.9,1195.2 L699.7,1195.4 L701.5,1195.6 L703.3,1195.9 L705.1,1196.1 L706.9,1196.3 L708.7,1196.6 L710.4,1196.8 L712.2,1197.1 L714.0,1197.4 L715.8,1197.6 L717.6,1197.9 L719.4,1198.2 L721.2,1198.5 L723.0,1198.8 L724.8,1199.1 L726.5,1199.4 L728.3,1199.8 L730.1,1200.1 L731.9,1200.4 L733.7,1200.8 L735.4,1201.1 L737.2,1201.5 L739.0,1201.8 L740.8,1202.2 L742.6,1202.5 L744.3,1202.9 L746.1,1203.3 L747.9,1203.6 L749.7,1204.0 L751.4,1204.4 L753.2,1204.8 L755.0,1205.2 L756.8,1205.6 L758.5,1206.0 L760.3,1206.4 L762.1,1206.8 L763.8,1207.2 L765.6,1207.6 L767.4,1208.0 L769.2,1208.4 L770.9,1208.8 L772.7,1209.2 L774.5,1209.6 L776.2,1210.1 L778.0,1210.5 L779.8,1210.9 L781.6,1211.3 L783.3,1211.7 L785.1,1212.2 L786.9,1212.6 L788.6,1213.0 L790.4,1213.4 L792.2,1213.9 L793.9,1214.3 L795.7,1214.7 L797.5,1215.1 L799.3,1215.6 L801.0,1216.0 L802.8,1216.4 L804.6,1216.8 L806.3,1217.3 L808.1,1217.7 L809.9,1218.1 L811.7,1218.5 L813.4,1218.9 L815.2,1219.3 L817.0,1219.8 L818.8,1220.2 L820.5,1220.6 L822.3,1221.0 L824.1,1221.4 L825.9,1221.8 L827.7,1222.2 L829.4,1222.6 L831.2,1223.0 L833.0,1223.4 L834.8,1223.8 L836.6,1224.2 L838.3,1224.5 L840.1,1224.9 L841.9,1225.3 L843.7,1225.7 L845.5,1226.0 L847.2,1226.4 L849.0,1226.8 L850.8,1227.1 L852.6,1227.5 L854.4,1227.9 L856.2,1228.2 L858.0,1228.6 L859.7,1228.9 L861.5,1229.2 L863.3,1229.6 L865.1,1229.9 L866.9,1230.2 L868.7,1230.6 L870.5,1230.9 L872.3,1231.2 L874.1,1231.5 L875.9,1231.8 L877.6,1232.1 L879.4,1232.4 L881.2,1232.7 L883.0,1233.0 L884.8,1233.3 L886.6,1233.6 L888.4,1233.8 L890.2,1234.1 L892.0,1234.4 L893.8,1234.6 L895.6,1234.9 L897.4,1235.1 L899.2,1235.4 L901.0,1235.6 L902.8,1235.8 L904.6,1236.1 L906.4,1236.3 L908.2,1236.5 L910.0,1236.7 L911.8,1236.9 L913.6,1237.1 L915.4,1237.3 L917.2,1237.5 L919.0,1237.6 L920.8,1237.8 L922.6,1238.0 L924.4,1238.1 L926.2,1238.3 L928.0,1238.4 L929.8,1238.6 L931.7,1238.7 L933.5,1238.8 L935.3,1238.9 L937.1,1239.0 L938.9,1239.1 L940.7,1239.2 L942.5,1239.3 L944.3,1239.4 L946.1,1239.5 L948.0,1239.5 L949.8,1239.6 L951.6,1239.6 L953.4,1239.7 L955.2,1239.7 L957.0,1239.7 L958.8,1239.7 L960.7,1239.8 L962.5,1239.8 L964.3,1239.7 L966.1,1239.7 L967.9,1239.7 L969.7,1239.7 L971.6,1239.6 L973.4,1239.6 L975.2,1239.5 L977.0,1239.4 L978.9,1239.4 L980.7,1239.3 L982.5,1239.2 L984.3,1239.1 L986.1,1239.0 L988.0,1238.8 L989.8,1238.7 L989.8,1423.2 L187.4,1423.2Z" fill="#dededd" stroke="none"/>
<line x1="97.0" y1="1349.2" x2="989.8" y2="1349.2" stroke="#b2b2b2" stroke-width="1.1"/>
<line x1="97.0" y1="1201.2" x2="989.8" y2="1201.2" stroke="#b2b2b2" stroke-width="1.1"/>
<line x1="97.0" y1="1127.2" x2="989.8" y2="1127.2" stroke="#b2b2b2" stroke-width="1.1"/>
<line x1="97.0" y1="1053.3" x2="989.8" y2="1053.3" stroke="#b2b2b2" stroke-width="1.1"/>
<line x1="97.0" y1="979.3" x2="989.8" y2="979.3" stroke="#b2b2b2" stroke-width="1.1"/>
<line x1="97.0" y1="905.3" x2="712.8" y2="905.3" stroke="#b2b2b2" stroke-width="1.1"/>
<line x1="983.1" y1="905.3" x2="989.8" y2="905.3" stroke="#b2b2b2" stroke-width="1.1"/>
<line x1="97.0" y1="831.3" x2="989.8" y2="831.3" stroke="#b2b2b2" stroke-width="1.1"/>
<line x1="543.4" y1="831.3" x2="543.4" y2="1423.2" stroke="#b2b2b2" stroke-width="1.1"/>
<line x1="692.2" y1="831.3" x2="692.2" y2="1423.2" stroke="#b2b2b2" stroke-width="1.1"/>
<line x1="841.0" y1="831.3" x2="841.0" y2="836.0" stroke="#b2b2b2" stroke-width="1.1"/>
<line x1="841.0" y1="909.9" x2="841.0" y2="1423.2" stroke="#b2b2b2" stroke-width="1.1"/>
<rect x="598" y="1461.2" width="1" height="2.8" fill="#bdbdbd"/>
<path d="M101.1,1423.1 L101.5,1421.0 L101.8,1418.8 L102.2,1416.7 L102.6,1414.5 L103.0,1412.4 L103.3,1410.2 L103.7,1408.1 L104.1,1405.9 L104.4,1403.8 L104.8,1401.6 L105.2,1399.5 L105.5,1397.4 L105.9,1395.2 L106.3,1393.1 L106.7,1390.9 L107.0,1388.8 L107.4,1386.6 L107.8,1384.5 L108.1,1382.3 L108.5,1380.2 L108.9,1378.1 L109.2,1375.9 L109.6,1373.8 L110.0,1371.6 L110.3,1369.5 L110.7,1367.3 L111.1,1365.2 L111.4,1363.0 L111.8,1360.9 L112.2,1358.8 L112.5,1356.6 L112.9,1354.5 L113.3,1352.3 L113.6,1350.2 L114.0,1348.0 L114.4,1345.9 L114.7,1343.8 L115.1,1341.6 L115.5,1339.5 L115.8,1337.3 L116.2,1335.2 L116.6,1333.0 L116.9,1330.9 L117.3,1328.8 L117.6,1326.6 L118.0,1324.5 L118.4,1322.3 L118.7,1320.2 L119.1,1318.0 L119.5,1315.9 L119.8,1313.8 L120.2,1311.6 L120.6,1309.5 L120.9,1307.3 L121.3,1305.2 L121.7,1303.1 L122.0,1300.9 L122.4,1298.8 L122.7,1296.6 L123.1,1294.5 L123.5,1292.3 L123.8,1290.2 L124.2,1288.1 L124.6,1285.9 L124.9,1283.8 L125.3,1281.6 L125.7,1279.5 L126.0,1277.4 L126.4,1275.2 L126.8,1273.1 L127.1,1270.9 L127.5,1268.8 L127.8,1266.7 L128.2,1264.5 L128.6,1262.4 L128.9,1260.2 L129.3,1258.1 L129.7,1255.9 L130.0,1253.8 L130.4,1251.7 L130.7,1249.5 L131.1,1247.4 L131.5,1245.2 L131.8,1243.1 L132.2,1241.0 L132.6,1238.8 L132.9,1236.7 L133.3,1234.5 L133.7,1232.4 L134.0,1230.3 L134.4,1228.1 L134.8,1226.0 L135.1,1223.8 L135.5,1221.7 L135.8,1219.6 L136.2,1217.4 L136.6,1215.3 L136.9,1213.1 L137.3,1211.0 L137.7,1208.9 L138.0,1206.7 L138.4,1204.6 L138.8,1202.4 L139.1,1200.3 L139.5,1198.1 L139.9,1196.0 L140.2,1193.9 L140.6,1191.7 L140.9,1189.6 L141.3,1187.4 L141.7,1185.3 L142.0,1183.2 L142.4,1181.0 L142.8,1178.9 L143.1,1176.7 L143.5,1174.6 L143.9,1172.5 L144.2,1170.3 L144.6,1168.2 L145.0,1166.0 L145.3,1163.9 L145.7,1161.8 L146.1,1159.6 L146.4,1157.5 L146.8,1155.3 L147.2,1153.2 L147.5,1151.0 L147.9,1148.9 L148.3,1146.8 L148.6,1144.6 L149.0,1142.5 L149.4,1140.3 L149.8,1138.2 L150.1,1136.1 L150.5,1133.9 L150.9,1131.8 L151.2,1129.6 L151.6,1127.5 L152.0,1125.3 L152.3,1123.2 L152.7,1121.1 L153.1,1118.9 L153.4,1116.8 L153.8,1114.6 L154.2,1112.5 L154.6,1110.3 L154.9,1108.2 L155.3,1106.1 L155.7,1103.9 L156.0,1101.8 L156.4,1099.6 L156.8,1097.5 L157.2,1095.3 L157.5,1093.2 L157.9,1091.1 L158.3,1088.9 L158.7,1086.8 L159.0,1084.6 L159.4,1082.5 L159.8,1080.3 L160.2,1078.2 L160.5,1076.1 L160.9,1073.9 L161.3,1071.8 L161.7,1069.6 L162.0,1067.5 L162.4,1065.3 L162.8,1063.2 L163.2,1061.0 L163.5,1058.9 L163.9,1056.8 L164.3,1054.6 L164.7,1052.5 L165.1,1050.3 L165.4,1048.2 L165.8,1046.0 L166.2,1043.9 L166.6,1041.7 L166.9,1039.6 L167.3,1037.4 L167.7,1035.3 L168.1,1033.2 L168.5,1031.0 L168.9,1028.9 L169.2,1026.7 L169.6,1024.6 L170.0,1022.4 L170.4,1020.3 L170.8,1018.1 L171.1,1016.0 L171.5,1013.8 L171.9,1011.7 L172.3,1009.5 L172.7,1007.4 L173.1,1005.3 L173.5,1003.1 L173.8,1001.0 L174.2,998.8 L174.6,996.7 L175.0,994.5 L175.4,992.4 L175.8,990.2 L176.2,988.1 L176.6,985.9 L177.0,983.8 L177.5,981.7 L177.9,979.6 L178.4,977.4 L178.9,975.3 L179.4,973.2 L180.0,971.1 L180.6,969.1 L181.2,967.0 L181.8,964.9 L182.5,962.9 L183.2,960.9 L184.0,958.9 L184.8,956.9 L185.6,954.9 L186.5,952.9 L187.5,951.0 L188.5,949.2 L189.6,948.1 L190.9,948.5 L192.1,950.1 L193.3,952.2 L194.1,954.4 L194.8,956.5 L195.3,958.7 L195.8,960.9 L196.2,963.0 L196.6,965.2 L197.0,967.3 L197.4,969.5 L197.8,971.7 L198.2,973.8 L198.6,976.0 L199.0,978.2 L199.3,980.3 L199.7,982.5 L200.0,984.6 L200.3,986.8 L200.6,989.0 L200.9,991.1 L201.2,993.3 L201.5,995.4 L201.8,997.6 L202.1,999.8 L202.4,1001.9 L202.7,1004.1 L203.0,1006.2 L203.2,1008.4 L203.5,1010.6 L203.8,1012.7 L204.0,1014.9 L204.3,1017.0 L204.5,1019.2 L204.8,1021.3 L205.0,1023.5 L205.3,1025.6 L205.6,1027.8 L205.8,1029.9 L206.1,1032.1 L206.3,1034.2 L206.6,1036.4 L206.9,1038.5 L207.1,1040.7 L207.4,1042.8 L207.7,1045.0 L208.0,1047.1 L208.2,1049.3 L208.5,1051.4 L208.8,1053.6 L209.1,1055.7 L209.4,1057.9 L209.8,1060.0 L210.1,1062.1 L210.4,1064.3 L210.8,1066.4 L211.1,1068.6 L211.5,1070.7 L211.8,1072.8 L212.2,1075.0 L212.6,1077.1 L213.0,1079.2 L213.4,1081.4 L213.8,1083.5 L214.3,1085.6 L214.7,1087.8 L215.2,1089.9 L215.6,1092.0 L216.1,1094.2 L216.6,1096.3 L217.1,1098.4 L217.6,1100.5 L218.2,1102.6 L218.7,1104.7 L219.2,1106.9 L219.8,1109.0 L220.4,1111.1 L220.9,1113.2 L221.5,1115.3 L222.1,1117.4 L222.8,1119.5 L223.4,1121.6 L224.0,1123.6 L224.7,1125.7 L225.3,1127.8 L226.0,1129.9 L226.7,1132.0 L227.4,1134.0 L228.1,1136.1 L228.8,1138.1 L229.5,1140.2 L230.3,1142.2 L231.0,1144.3 L231.8,1146.3 L232.5,1148.4 L233.3,1150.4 L234.1,1152.4 L234.9,1154.4 L235.7,1156.4 L236.6,1158.5 L237.4,1160.5 L238.3,1162.5 L239.1,1164.4 L240.0,1166.4 L240.9,1168.4 L241.8,1170.4 L242.7,1172.3 L243.7,1174.3 L244.6,1176.2 L245.6,1178.2 L246.5,1180.1 L247.5,1182.1 L248.5,1184.0 L249.5,1185.9 L250.6,1187.8 L251.6,1189.7 L252.6,1191.6 L253.7,1193.5 L254.8,1195.4 L255.9,1197.2 L257.0,1199.1 L258.1,1200.9 L259.3,1202.8 L260.4,1204.6 L261.6,1206.5 L262.8,1208.3 L264.0,1210.1 L265.2,1211.9 L266.5,1213.7 L267.7,1215.5 L269.0,1217.2 L270.3,1219.0 L271.6,1220.8 L272.9,1222.5 L274.2,1224.2 L275.6,1226.0 L276.9,1227.7 L278.3,1229.4 L279.7,1231.0 L281.2,1232.7 L282.6,1234.3 L284.1,1235.9 L285.6,1237.5 L287.2,1239.0 L288.7,1240.5 L290.3,1242.0 L292.0,1243.4 L293.6,1244.8 L295.3,1246.1 L297.1,1247.4 L298.8,1248.7 L300.6,1249.9 L302.5,1251.0 L304.4,1252.1 L306.3,1253.1 L308.2,1254.1 L310.2,1255.0 L312.3,1255.9 L314.3,1256.7 L316.4,1257.4 L318.5,1258.1 L320.6,1258.7 L322.8,1259.2 L324.9,1259.7 L327.1,1260.2 L329.3,1260.5 L331.5,1260.9 L333.6,1261.1 L335.8,1261.3 L338.0,1261.4 L340.1,1261.5 L342.3,1261.5 L344.4,1261.4 L346.6,1261.3 L348.7,1261.2 L350.9,1261.0 L353.0,1260.7 L355.1,1260.5 L357.2,1260.1 L359.3,1259.8 L361.4,1259.4 L363.5,1259.0 L365.6,1258.5 L367.7,1258.1 L369.8,1257.6 L371.9,1257.0 L374.0,1256.5 L376.1,1256.0 L378.2,1255.4 L380.3,1254.9 L382.4,1254.3 L384.5,1253.7 L386.6,1253.2 L388.6,1252.6 L390.7,1252.0 L392.8,1251.4 L394.9,1250.8 L397.0,1250.2 L399.1,1249.6 L401.2,1249.0 L403.3,1248.4 L405.3,1247.8 L407.4,1247.2 L409.5,1246.6 L411.6,1245.9 L413.7,1245.3 L415.8,1244.7 L417.9,1244.1 L419.9,1243.4 L422.0,1242.8 L424.1,1242.2 L426.2,1241.5 L428.3,1240.9 L430.4,1240.2 L432.5,1239.6 L434.5,1238.9 L436.6,1238.3 L438.7,1237.6 L440.8,1237.0 L442.9,1236.3 L445.0,1235.7 L447.1,1235.0 L449.1,1234.4 L451.2,1233.7 L453.3,1233.1 L455.4,1232.4 L457.5,1231.8 L459.6,1231.1 L461.7,1230.5 L463.8,1229.8 L465.9,1229.2 L467.9,1228.5 L470.0,1227.9 L472.1,1227.2 L474.2,1226.6 L476.3,1226.0 L478.4,1225.3 L480.5,1224.7 L482.6,1224.0 L484.7,1223.4 L486.8,1222.8 L488.9,1222.1 L490.9,1221.5 L493.0,1220.9 L495.1,1220.2 L497.2,1219.6 L499.3,1219.0 L501.4,1218.4 L503.5,1217.8 L505.6,1217.2 L507.7,1216.6 L509.8,1216.0 L511.9,1215.4 L514.0,1214.8 L516.1,1214.2 L518.2,1213.6 L520.3,1213.0 L522.4,1212.5 L524.5,1211.9 L526.6,1211.3 L528.7,1210.8 L530.8,1210.2 L532.9,1209.7 L535.0,1209.1 L537.2,1208.6 L539.3,1208.1 L541.4,1207.6 L543.5,1207.0 L545.6,1206.5 L547.7,1206.0 L549.8,1205.5 L551.9,1205.0 L554.1,1204.6 L556.2,1204.1 L558.3,1203.6 L560.4,1203.2 L562.5,1202.7 L564.6,1202.3 L566.8,1201.8 L568.9,1201.4 L571.0,1201.0 L573.1,1200.6 L575.3,1200.2 L577.4,1199.8 L579.5,1199.4 L581.6,1199.0 L583.8,1198.6 L585.9,1198.3 L588.0,1197.9 L590.2,1197.6 L592.3,1197.3 L594.4,1196.9 L596.6,1196.6 L598.7,1196.3 L600.9,1196.0 L603.0,1195.8 L605.2,1195.5 L607.3,1195.2 L609.4,1195.0 L611.6,1194.8 L613.7,1194.5 L615.9,1194.3 L618.0,1194.1 L620.2,1193.9 L622.3,1193.7 L624.5,1193.6 L626.7,1193.4 L628.8,1193.3 L631.0,1193.2 L633.1,1193.0 L635.3,1192.9 L637.5,1192.9 L639.6,1192.8 L641.8,1192.7 L644.0,1192.7 L646.1,1192.6 L648.3,1192.6 L650.5,1192.6 L652.7,1192.6 L654.8,1192.6 L657.0,1192.6 L659.2,1192.6 L661.4,1192.7 L663.6,1192.7 L665.7,1192.8 L667.9,1192.9 L670.1,1193.0 L672.3,1193.1 L674.4,1193.2 L676.6,1193.3 L678.8,1193.5 L681.0,1193.6 L683.2,1193.8 L685.3,1194.0 L687.5,1194.1 L689.7,1194.3 L691.9,1194.5 L694.0,1194.7 L696.2,1195.0 L698.4,1195.2 L700.6,1195.4 L702.7,1195.7 L704.9,1196.0 L707.1,1196.2 L709.2,1196.5 L711.4,1196.8 L713.6,1197.1 L715.7,1197.4 L717.9,1197.7 L720.0,1198.1 L722.2,1198.4 L724.4,1198.8 L726.5,1199.1 L728.7,1199.5 L730.8,1199.9 L733.0,1200.2 L735.1,1200.6 L737.2,1201.0 L739.4,1201.4 L741.5,1201.8 L743.6,1202.3 L745.8,1202.7 L747.9,1203.1 L750.0,1203.6 L752.2,1204.0 L754.3,1204.5 L756.4,1204.9 L758.5,1205.4 L760.6,1205.9 L762.8,1206.3 L764.9,1206.8 L767.0,1207.3 L769.1,1207.8 L771.2,1208.3 L773.3,1208.8 L775.4,1209.3 L777.5,1209.8 L779.7,1210.3 L781.8,1210.8 L783.9,1211.3 L786.0,1211.8 L788.1,1212.3 L790.2,1212.8 L792.3,1213.3 L794.4,1213.9 L796.5,1214.4 L798.6,1214.9 L800.7,1215.4 L802.8,1215.9 L804.9,1216.4 L807.0,1216.9 L809.1,1217.5 L811.2,1218.0 L813.4,1218.5 L815.5,1219.0 L817.6,1219.5 L819.7,1220.0 L821.8,1220.5 L823.9,1221.0 L826.0,1221.5 L828.1,1222.0 L830.2,1222.5 L832.4,1223.0 L834.5,1223.5 L836.6,1223.9 L838.7,1224.4 L840.8,1224.9 L843.0,1225.3 L845.1,1225.8 L847.2,1226.2 L849.3,1226.7 L851.5,1227.1 L853.6,1227.6 L855.7,1228.0 L857.9,1228.4 L860.0,1228.8 L862.2,1229.2 L864.3,1229.6 L866.4,1230.0 L868.6,1230.4 L870.7,1230.8 L872.9,1231.2 L875.0,1231.5 L877.2,1231.9 L879.3,1232.2 L881.5,1232.6 L883.6,1232.9 L885.8,1233.3 L887.9,1233.6 L890.1,1233.9 L892.2,1234.2 L894.4,1234.5 L896.6,1234.8 L898.7,1235.1 L900.9,1235.4 L903.0,1235.6 L905.2,1235.9 L907.4,1236.2 L909.5,1236.4 L911.7,1236.6 L913.9,1236.9 L916.0,1237.1 L918.2,1237.3 L920.3,1237.5 L922.5,1237.7 L924.7,1237.8 L926.9,1238.0 L929.0,1238.2 L931.2,1238.3 L933.4,1238.5 L935.5,1238.6 L937.7,1238.7 L939.9,1238.8 L942.0,1238.9 L944.2,1239.0 L946.4,1239.1 L948.6,1239.2 L950.7,1239.2 L952.9,1239.3 L955.1,1239.3 L957.2,1239.4 L959.4,1239.4 L961.6,1239.4 L963.8,1239.4 L965.9,1239.4 L968.1,1239.3 L970.3,1239.3 L972.4,1239.2 L974.6,1239.2 L976.8,1239.1 L979.0,1239.0 L981.1,1238.9 L983.3,1238.8 L985.5,1238.7 L987.6,1238.5 L989.8,1238.4" fill="none" stroke="#cb3b69" stroke-width="3.3" stroke-linejoin="round"/>
<path d="M187.4,1423.1 L187.6,1421.3 L187.9,1419.6 L188.1,1417.8 L188.3,1416.0 L188.5,1414.2 L188.7,1412.4 L188.9,1410.7 L189.1,1408.9 L189.3,1407.1 L189.5,1405.3 L189.7,1403.5 L189.9,1401.7 L190.1,1399.9 L190.2,1398.1 L190.4,1396.3 L190.6,1394.5 L190.8,1392.7 L191.0,1390.8 L191.2,1389.0 L191.4,1387.2 L191.7,1385.4 L191.9,1383.6 L192.1,1381.7 L192.4,1379.9 L192.6,1378.1 L192.9,1376.3 L193.2,1374.4 L193.5,1372.6 L193.8,1370.8 L194.1,1368.9 L194.5,1367.1 L194.8,1365.3 L195.2,1363.4 L195.6,1361.6 L196.0,1359.8 L196.5,1358.0 L196.9,1356.2 L197.4,1354.4 L197.9,1352.6 L198.5,1350.8 L199.1,1349.1 L199.7,1347.4 L200.3,1345.7 L201.0,1344.0 L201.7,1342.3 L202.5,1340.7 L203.3,1339.1 L204.1,1337.5 L205.0,1335.9 L205.9,1334.4 L206.9,1332.9 L207.9,1331.4 L208.9,1330.0 L210.0,1328.6 L211.2,1327.3 L212.3,1326.0 L213.5,1324.7 L214.8,1323.4 L216.1,1322.2 L217.4,1321.0 L218.8,1319.9 L220.1,1318.8 L221.6,1317.8 L223.0,1316.8 L224.5,1315.8 L226.0,1314.9 L227.5,1314.0 L229.1,1313.1 L230.6,1312.3 L232.2,1311.5 L233.9,1310.7 L235.5,1310.0 L237.2,1309.3 L238.8,1308.6 L240.5,1307.9 L242.2,1307.2 L243.9,1306.6 L245.7,1306.0 L247.4,1305.4 L249.2,1304.8 L250.9,1304.2 L252.7,1303.6 L254.4,1303.1 L256.2,1302.5 L257.9,1301.9 L259.7,1301.4 L261.5,1300.8 L263.2,1300.2 L265.0,1299.7 L266.7,1299.1 L268.5,1298.5 L270.2,1297.9 L272.0,1297.4 L273.7,1296.8 L275.5,1296.2 L277.2,1295.6 L279.0,1295.0 L280.7,1294.4 L282.4,1293.8 L284.2,1293.2 L285.9,1292.6 L287.6,1292.0 L289.4,1291.4 L291.1,1290.8 L292.8,1290.2 L294.6,1289.6 L296.3,1289.0 L298.0,1288.4 L299.7,1287.8 L301.5,1287.2 L303.2,1286.6 L304.9,1285.9 L306.6,1285.3 L308.3,1284.7 L310.0,1284.1 L311.7,1283.5 L313.5,1282.9 L315.2,1282.2 L316.9,1281.6 L318.6,1281.0 L320.3,1280.4 L322.0,1279.7 L323.7,1279.1 L325.4,1278.5 L327.1,1277.9 L328.8,1277.2 L330.5,1276.6 L332.2,1276.0 L333.9,1275.3 L335.6,1274.7 L337.3,1274.1 L339.0,1273.4 L340.7,1272.8 L342.4,1272.2 L344.1,1271.5 L345.8,1270.9 L347.5,1270.3 L349.2,1269.6 L350.9,1269.0 L352.6,1268.4 L354.3,1267.7 L356.0,1267.1 L357.7,1266.5 L359.4,1265.8 L361.1,1265.2 L362.8,1264.6 L364.5,1263.9 L366.2,1263.3 L367.9,1262.7 L369.6,1262.1 L371.2,1261.4 L372.9,1260.8 L374.6,1260.2 L376.3,1259.5 L378.0,1258.9 L379.7,1258.3 L381.4,1257.7 L383.1,1257.0 L384.8,1256.4 L386.5,1255.8 L388.2,1255.2 L389.9,1254.6 L391.6,1253.9 L393.3,1253.3 L395.0,1252.7 L396.7,1252.1 L398.4,1251.5 L400.1,1250.9 L401.8,1250.2 L403.5,1249.6 L405.2,1249.0 L406.9,1248.4 L408.6,1247.8 L410.3,1247.2 L412.1,1246.6 L413.8,1246.0 L415.5,1245.4 L417.2,1244.8 L418.9,1244.2 L420.6,1243.6 L422.3,1243.0 L424.0,1242.5 L425.8,1241.9 L427.5,1241.3 L429.2,1240.7 L430.9,1240.1 L432.6,1239.6 L434.4,1239.0 L436.1,1238.4 L437.8,1237.8 L439.6,1237.3 L441.3,1236.7 L443.0,1236.1 L444.7,1235.6 L446.5,1235.0 L448.2,1234.5 L449.9,1233.9 L451.7,1233.4 L453.4,1232.8 L455.2,1232.3 L456.9,1231.7 L458.6,1231.2 L460.4,1230.6 L462.1,1230.1 L463.9,1229.6 L465.6,1229.0 L467.4,1228.5 L469.1,1228.0 L470.9,1227.5 L472.6,1226.9 L474.4,1226.4 L476.1,1225.9 L477.9,1225.4 L479.6,1224.9 L481.4,1224.3 L483.1,1223.8 L484.9,1223.3 L486.6,1222.8 L488.4,1222.3 L490.1,1221.8 L491.9,1221.3 L493.7,1220.8 L495.4,1220.3 L497.2,1219.8 L498.9,1219.3 L500.7,1218.9 L502.5,1218.4 L504.2,1217.9 L506.0,1217.4 L507.7,1216.9 L509.5,1216.5 L511.3,1216.0 L513.0,1215.5 L514.8,1215.0 L516.5,1214.6 L518.3,1214.1 L520.1,1213.6 L521.8,1213.2 L523.6,1212.7 L525.3,1212.3 L527.1,1211.8 L528.9,1211.4 L530.6,1210.9 L532.4,1210.5 L534.2,1210.0 L535.9,1209.6 L537.7,1209.1 L539.4,1208.7 L541.2,1208.2 L543.0,1207.8 L544.7,1207.4 L546.5,1206.9 L548.2,1206.5 L550.0,1206.1 L551.8,1205.7 L553.5,1205.3 L555.3,1204.8 L557.0,1204.4 L558.8,1204.0 L560.6,1203.6 L562.3,1203.2 L564.1,1202.8 L565.9,1202.4 L567.6,1202.1 L569.4,1201.7 L571.2,1201.3 L573.0,1201.0 L574.7,1200.6 L576.5,1200.3 L578.3,1199.9 L580.1,1199.6 L581.9,1199.3 L583.6,1198.9 L585.4,1198.6 L587.2,1198.3 L589.0,1198.0 L590.8,1197.7 L592.6,1197.5 L594.4,1197.2 L596.2,1196.9 L598.0,1196.7 L599.8,1196.4 L601.6,1196.2 L603.4,1196.0 L605.2,1195.7 L607.0,1195.5 L608.8,1195.3 L610.6,1195.1 L612.5,1194.9 L614.3,1194.7 L616.1,1194.6 L617.9,1194.4 L619.7,1194.2 L621.5,1194.1 L623.3,1193.9 L625.2,1193.8 L627.0,1193.7 L628.8,1193.6 L630.6,1193.5 L632.4,1193.3 L634.3,1193.3 L636.1,1193.2 L637.9,1193.1 L639.7,1193.0 L641.6,1193.0 L643.4,1192.9 L645.2,1192.9 L647.0,1192.8 L648.8,1192.8 L650.7,1192.8 L652.5,1192.8 L654.3,1192.8 L656.1,1192.8 L658.0,1192.8 L659.8,1192.8 L661.6,1192.8 L663.4,1192.9 L665.2,1192.9 L667.1,1193.0 L668.9,1193.0 L670.7,1193.1 L672.5,1193.2 L674.3,1193.3 L676.2,1193.4 L678.0,1193.5 L679.8,1193.6 L681.6,1193.7 L683.4,1193.8 L685.2,1194.0 L687.0,1194.1 L688.8,1194.3 L690.6,1194.5 L692.5,1194.6 L694.3,1194.8 L696.1,1195.0 L697.9,1195.2 L699.7,1195.4 L701.5,1195.6 L703.3,1195.9 L705.1,1196.1 L706.9,1196.3 L708.7,1196.6 L710.4,1196.8 L712.2,1197.1 L714.0,1197.4 L715.8,1197.6 L717.6,1197.9 L719.4,1198.2 L721.2,1198.5 L723.0,1198.8 L724.8,1199.1 L726.5,1199.4 L728.3,1199.8 L730.1,1200.1 L731.9,1200.4 L733.7,1200.8 L735.4,1201.1 L737.2,1201.5 L739.0,1201.8 L740.8,1202.2 L742.6,1202.5 L744.3,1202.9 L746.1,1203.3 L747.9,1203.6 L749.7,1204.0 L751.4,1204.4 L753.2,1204.8 L755.0,1205.2 L756.8,1205.6 L758.5,1206.0 L760.3,1206.4 L762.1,1206.8 L763.8,1207.2 L765.6,1207.6 L767.4,1208.0 L769.2,1208.4 L770.9,1208.8 L772.7,1209.2 L774.5,1209.6 L776.2,1210.1 L778.0,1210.5 L779.8,1210.9 L781.6,1211.3 L783.3,1211.7 L785.1,1212.2 L786.9,1212.6 L788.6,1213.0 L790.4,1213.4 L792.2,1213.9 L793.9,1214.3 L795.7,1214.7 L797.5,1215.1 L799.3,1215.6 L801.0,1216.0 L802.8,1216.4 L804.6,1216.8 L806.3,1217.3 L808.1,1217.7 L809.9,1218.1 L811.7,1218.5 L813.4,1218.9 L815.2,1219.3 L817.0,1219.8 L818.8,1220.2 L820.5,1220.6 L822.3,1221.0 L824.1,1221.4 L825.9,1221.8 L827.7,1222.2 L829.4,1222.6 L831.2,1223.0 L833.0,1223.4 L834.8,1223.8 L836.6,1224.2 L838.3,1224.5 L840.1,1224.9 L841.9,1225.3 L843.7,1225.7 L845.5,1226.0 L847.2,1226.4 L849.0,1226.8 L850.8,1227.1 L852.6,1227.5 L854.4,1227.9 L856.2,1228.2 L858.0,1228.6 L859.7,1228.9 L861.5,1229.2 L863.3,1229.6 L865.1,1229.9 L866.9,1230.2 L868.7,1230.6 L870.5,1230.9 L872.3,1231.2 L874.1,1231.5 L875.9,1231.8 L877.6,1232.1 L879.4,1232.4 L881.2,1232.7 L883.0,1233.0 L884.8,1233.3 L886.6,1233.6 L888.4,1233.8 L890.2,1234.1 L892.0,1234.4 L893.8,1234.6 L895.6,1234.9 L897.4,1235.1 L899.2,1235.4 L901.0,1235.6 L902.8,1235.8 L904.6,1236.1 L906.4,1236.3 L908.2,1236.5 L910.0,1236.7 L911.8,1236.9 L913.6,1237.1 L915.4,1237.3 L917.2,1237.5 L919.0,1237.6 L920.8,1237.8 L922.6,1238.0 L924.4,1238.1 L926.2,1238.3 L928.0,1238.4 L929.8,1238.6 L931.7,1238.7 L933.5,1238.8 L935.3,1238.9 L937.1,1239.0 L938.9,1239.1 L940.7,1239.2 L942.5,1239.3 L944.3,1239.4 L946.1,1239.5 L948.0,1239.5 L949.8,1239.6 L951.6,1239.6 L953.4,1239.7 L955.2,1239.7 L957.0,1239.7 L958.8,1239.7 L960.7,1239.8 L962.5,1239.8 L964.3,1239.7 L966.1,1239.7 L967.9,1239.7 L969.7,1239.7 L971.6,1239.6 L973.4,1239.6 L975.2,1239.5 L977.0,1239.4 L978.9,1239.4 L980.7,1239.3 L982.5,1239.2 L984.3,1239.1 L986.1,1239.0 L988.0,1238.8 L989.8,1238.7" fill="none" stroke="#8e908d" stroke-width="3.1" stroke-linejoin="round"/>
<line x1="96.5" y1="1423.2" x2="989.8" y2="1423.2" stroke="#000" stroke-width="1.25"/>
<text x="92.5" y="1431.6" font-size="20" text-anchor="end">2</text>
<line x1="94.4" y1="1349.2" x2="97.0" y2="1349.2" stroke="#262626" stroke-width="1.1"/>
<text x="92.5" y="1357.6" font-size="20" text-anchor="end">3</text>
<text x="92.5" y="1283.6" font-size="20" text-anchor="end">4</text>
<line x1="94.4" y1="1201.2" x2="97.0" y2="1201.2" stroke="#262626" stroke-width="1.1"/>
<text x="92.5" y="1209.6" font-size="20" text-anchor="end">5</text>
<line x1="94.4" y1="1127.2" x2="97.0" y2="1127.2" stroke="#262626" stroke-width="1.1"/>
<text x="92.5" y="1135.7" font-size="20" text-anchor="end">6</text>
<line x1="94.4" y1="1053.3" x2="97.0" y2="1053.3" stroke="#262626" stroke-width="1.1"/>
<text x="92.5" y="1061.7" font-size="20" text-anchor="end">7</text>
<line x1="94.4" y1="979.3" x2="97.0" y2="979.3" stroke="#262626" stroke-width="1.1"/>
<text x="92.5" y="987.7" font-size="20" text-anchor="end">8</text>
<line x1="94.4" y1="905.3" x2="97.0" y2="905.3" stroke="#262626" stroke-width="1.1"/>
<text x="92.5" y="913.7" font-size="20" text-anchor="end">9</text>
<line x1="94.4" y1="831.3" x2="97.0" y2="831.3" stroke="#262626" stroke-width="1.1"/>
<text x="92.5" y="839.7" font-size="20" text-anchor="end">10</text>
<text x="97.0" y="1442.7" font-size="20" text-anchor="middle">0</text>
<text x="245.8" y="1442.7" font-size="20" text-anchor="middle">10</text>
<text x="394.6" y="1442.7" font-size="20" text-anchor="middle">20</text>
<line x1="543.4" y1="1423.2" x2="543.4" y2="1426.0" stroke="#262626" stroke-width="1.1"/>
<text x="543.4" y="1442.7" font-size="20" text-anchor="middle">30</text>
<line x1="692.2" y1="1423.2" x2="692.2" y2="1426.0" stroke="#262626" stroke-width="1.1"/>
<text x="692.2" y="1442.7" font-size="20" text-anchor="middle">40</text>
<line x1="841.0" y1="1423.2" x2="841.0" y2="1426.0" stroke="#262626" stroke-width="1.1"/>
<text x="841.0" y="1442.7" font-size="20" text-anchor="middle">50</text>
<text x="989.8" y="1442.7" font-size="20" text-anchor="middle">60</text>
<text transform="translate(561.5,1476.0) scale(0.967,1)" font-size="27" text-anchor="middle" stroke="#000" stroke-width="0.5">Days</text>
<text transform="translate(57.5,1126.4) rotate(-90)" font-size="26.7" text-anchor="middle" stroke="#000" stroke-width="0.4">Viral loard (copies/ml) in log10 scale</text>
<text y="803.0" font-size="48.2" text-anchor="start" stroke="#000" stroke-width="0.6"><tspan x="474.9">α</tspan><tspan x="507.9" dy="9.0" font-size="31">2</tspan><tspan x="529.8" dy="-9.0"> = 0.12</tspan></text>
</g>
<text y="49.7" stroke="#000" stroke-width="0.5"><tspan x="9.3" dy="4.9" font-size="54.9">(</tspan><tspan x="26.7" dy="-4.9" font-size="47">A</tspan><tspan x="59.3" dy="4.9" font-size="54.9">)</tspan></text>
<text y="48.9" stroke="#000" stroke-width="0.5"><tspan x="1141.3" dy="3.5" font-size="55.9">(</tspan><tspan x="1164.2" dy="-3.5" font-size="50">B</tspan><tspan x="1197.8" dy="3.5" font-size="55.9">)</tspan></text>
<defs><clipPath id="pc"><rect x="1388.5" y="224.4" width="832.0" height="1033.8"/></clipPath></defs>
<g clip-path="url(#pc)">
<rect x="1388.5" y="224.4" width="832.0" height="1033.8" fill="#128966"/>
<path d="M1598.1,214.4 L1598.1,1028.2 L1665.8,1117.5 L1758.2,1176.7 L1850.7,1203.3 L1943.1,1218.9 L2035.5,1224.9 L2100.5,1142.8 L2035.5,1062.3 L2019.9,1028.2 L2019.9,214.4Z" fill="#369b66" stroke="none"/>
<path d="M1655.3,214.4 L1655.3,1028.2 L1665.8,1040.3 L1758.2,1113.5 L1850.7,1148.0 L1943.1,1179.7 L2035.5,1191.8 L2074.9,1142.8 L2035.5,1088.4 L2005.0,1028.2 L2005.0,214.4Z" fill="#5bad66" stroke="none"/>
<path d="M1716.4,214.4 L1716.4,1028.2 L1758.2,1061.3 L1850.7,1105.0 L1943.1,1141.6 L2035.5,1159.7 L2048.8,1142.8 L2035.5,1127.6 L1990.0,1028.2 L1990.0,214.4Z" fill="#80bf66" stroke="none"/>
<path d="M1782.9,214.4 L1782.9,1028.2 L1850.7,1064.0 L1943.1,1105.5 L1974.5,1028.2 L1974.5,214.4Z" fill="#a4d166" stroke="none"/>
<path d="M1858.9,214.4 L1858.9,1028.2 L1943.1,1068.4 L1959.2,1028.2 L1959.2,214.4Z" fill="#c9e466" stroke="none"/>
<path d="M1933.4,214.4 L1933.4,1028.2 L1943.1,1032.6 L1944.3,1028.2 L1944.3,214.4Z" fill="#edf666" stroke="none"/>
<path d="M1598.1,214.4 L1598.1,1028.2 L1665.8,1117.5 L1758.2,1176.7 L1850.7,1203.3 L1943.1,1218.9 L2035.5,1224.9 L2100.5,1142.8 L2035.5,1062.3 L2019.9,1028.2 L2019.9,214.4" fill="none" stroke="#eeeeee" stroke-width="6" stroke-linejoin="miter" stroke-miterlimit="10"/>
<path d="M1655.3,214.4 L1655.3,1028.2 L1665.8,1040.3 L1758.2,1113.5 L1850.7,1148.0 L1943.1,1179.7 L2035.5,1191.8 L2074.9,1142.8 L2035.5,1088.4 L2005.0,1028.2 L2005.0,214.4" fill="none" stroke="#d2d2d2" stroke-width="6" stroke-linejoin="miter" stroke-miterlimit="10"/>
<path d="M1716.4,214.4 L1716.4,1028.2 L1758.2,1061.3 L1850.7,1105.0 L1943.1,1141.6 L2035.5,1159.7 L2048.8,1142.8 L2035.5,1127.6 L1990.0,1028.2 L1990.0,214.4" fill="none" stroke="#acacac" stroke-width="6" stroke-linejoin="miter" stroke-miterlimit="10"/>
<path d="M1782.9,214.4 L1782.9,1028.2 L1850.7,1064.0 L1943.1,1105.5 L1974.5,1028.2 L1974.5,214.4" fill="none" stroke="#838383" stroke-width="6" stroke-linejoin="miter" stroke-miterlimit="10"/>
<path d="M1858.9,214.4 L1858.9,1028.2 L1943.1,1068.4 L1959.2,1028.2 L1959.2,214.4" fill="none" stroke="#5b5b5b" stroke-width="6" stroke-linejoin="miter" stroke-miterlimit="10"/>
<path d="M1933.4,214.4 L1933.4,1028.2 L1943.1,1032.6 L1944.3,1028.2 L1944.3,214.4" fill="none" stroke="#2d2d2d" stroke-width="6" stroke-linejoin="miter" stroke-miterlimit="10"/>
</g>
<rect x="1388.5" y="224.4" width="832.0" height="1033.8" fill="none" stroke="#000" stroke-width="1.3"/>
<line x1="1383.5" y1="1059.0" x2="1388.5" y2="1059.0" stroke="#000" stroke-width="1.3"/>
<text x="1376.6" y="1073.5" font-size="37.8" text-anchor="end" letter-spacing="-0.68" stroke="#000" stroke-width="0.3">0.2</text>
<line x1="1383.5" y1="850.1" x2="1388.5" y2="850.1" stroke="#000" stroke-width="1.3"/>
<text x="1376.6" y="864.6" font-size="37.8" text-anchor="end" letter-spacing="-0.68" stroke="#000" stroke-width="0.3">0.4</text>
<line x1="1383.5" y1="641.0" x2="1388.5" y2="641.0" stroke="#000" stroke-width="1.3"/>
<text x="1376.6" y="655.5" font-size="37.8" text-anchor="end" letter-spacing="-0.68" stroke="#000" stroke-width="0.3">0.6</text>
<line x1="1383.5" y1="432.5" x2="1388.5" y2="432.5" stroke="#000" stroke-width="1.3"/>
<text x="1376.6" y="447.0" font-size="37.8" text-anchor="end" letter-spacing="-0.68" stroke="#000" stroke-width="0.3">0.8</text>
<line x1="1383.5" y1="224.3" x2="1388.5" y2="224.3" stroke="#000" stroke-width="1.3"/>
<text x="1376.6" y="238.8" font-size="37.8" text-anchor="end" letter-spacing="-0.68" stroke="#000" stroke-width="0.3">1.0</text>
<line x1="1388.5" y1="1258.2" x2="1388.5" y2="1263.2" stroke="#000" stroke-width="1.3"/>
<text x="1387.8" y="1296.2" font-size="37.8" text-anchor="middle" letter-spacing="-0.68" stroke="#000" stroke-width="0.3">0.00</text>
<line x1="1595.6" y1="1258.2" x2="1595.6" y2="1263.2" stroke="#000" stroke-width="1.3"/>
<text x="1594.9" y="1296.2" font-size="37.8" text-anchor="middle" letter-spacing="-0.68" stroke="#000" stroke-width="0.3">0.05</text>
<line x1="1804.3" y1="1258.2" x2="1804.3" y2="1263.2" stroke="#000" stroke-width="1.3"/>
<text x="1803.6" y="1296.2" font-size="37.8" text-anchor="middle" letter-spacing="-0.68" stroke="#000" stroke-width="0.3">0.10</text>
<line x1="2012.2" y1="1258.2" x2="2012.2" y2="1263.2" stroke="#000" stroke-width="1.3"/>
<text x="2011.5" y="1296.2" font-size="37.8" text-anchor="middle" letter-spacing="-0.68" stroke="#000" stroke-width="0.3">0.15</text>
<line x1="2220.3" y1="1258.2" x2="2220.3" y2="1263.2" stroke="#000" stroke-width="1.3"/>
<text x="2219.6" y="1296.2" font-size="37.8" text-anchor="middle" letter-spacing="-0.68" stroke="#000" stroke-width="0.3">0.20</text>
<text y="1341.0" font-size="38.8" stroke="#000" stroke-width="0.3"><tspan x="1463.07" letter-spacing="-0.826">antibody neutralization capacity </tspan><tspan x="2076.23" dy="-2.2" font-size="38">(</tspan><tspan x="2090.38" dy="2.2" font-style="italic">α</tspan><tspan x="2114.55" dy="10.5" font-size="22.5">2</tspan><tspan x="2133.04" dy="-12.7" font-size="38">)</tspan></text>
<text transform="translate(1304.0,740.0) rotate(-90) scale(0.955,1)" y="0" font-size="39.3"><tspan x="-325.80" letter-spacing="-0.193">immune response broadness </tspan><tspan x="251.39" dy="-1.6" font-size="38">(</tspan><tspan x="267.31" dy="1.6" font-style="italic">d</tspan><tspan x="291.68" dy="4.5" font-size="24.5">0</tspan><tspan x="310.95" dy="-6.1" font-size="38">)</tspan></text>
<rect x="2272.5" y="1110.40" width="52.2" height="148.10" fill="#128966"/>
<rect x="2272.5" y="962.60" width="52.2" height="148.10" fill="#369b66"/>
<rect x="2272.5" y="814.80" width="52.2" height="148.10" fill="#5bad66"/>
<rect x="2272.5" y="667.00" width="52.2" height="148.10" fill="#80bf66"/>
<rect x="2272.5" y="519.20" width="52.2" height="148.10" fill="#a4d166"/>
<rect x="2272.5" y="371.40" width="52.2" height="148.10" fill="#c9e466"/>
<rect x="2272.5" y="224.40" width="52.2" height="147.30" fill="#edf666"/>
<rect x="2272.5" y="224.4" width="52.2" height="1033.8" fill="none" stroke="#000" stroke-width="1.3"/>
<line x1="2324.7" y1="1258.2" x2="2329.5" y2="1258.2" stroke="#000" stroke-width="1.3"/>
<text x="2332.7" y="1272.2" font-size="37.8" text-anchor="start" letter-spacing="-0.68" stroke="#000" stroke-width="0.3">0</text>
<line x1="2324.7" y1="1110.4" x2="2329.5" y2="1110.4" stroke="#000" stroke-width="1.3"/>
<text x="2332.7" y="1124.4" font-size="37.8" text-anchor="start" letter-spacing="-0.68" stroke="#000" stroke-width="0.3">8</text>
<line x1="2324.7" y1="962.6" x2="2329.5" y2="962.6" stroke="#000" stroke-width="1.3"/>
<text x="2332.7" y="976.6" font-size="37.8" text-anchor="start" letter-spacing="-0.68" stroke="#000" stroke-width="0.3">16</text>
<line x1="2324.7" y1="814.8" x2="2329.5" y2="814.8" stroke="#000" stroke-width="1.3"/>
<text x="2332.7" y="828.8" font-size="37.8" text-anchor="start" letter-spacing="-0.68" stroke="#000" stroke-width="0.3">24</text>
<line x1="2324.7" y1="667.0" x2="2329.5" y2="667.0" stroke="#000" stroke-width="1.3"/>
<text x="2332.7" y="681.0" font-size="37.8" text-anchor="start" letter-spacing="-0.68" stroke="#000" stroke-width="0.3">32</text>
<line x1="2324.7" y1="519.2" x2="2329.5" y2="519.2" stroke="#000" stroke-width="1.3"/>
<text x="2332.7" y="533.2" font-size="37.8" text-anchor="start" letter-spacing="-0.68" stroke="#000" stroke-width="0.3">40</text>
<line x1="2324.7" y1="371.4" x2="2329.5" y2="371.4" stroke="#000" stroke-width="1.3"/>
<text x="2332.7" y="385.4" font-size="37.8" text-anchor="start" letter-spacing="-0.68" stroke="#000" stroke-width="0.3">48</text>
<line x1="2324.7" y1="224.4" x2="2329.5" y2="224.4" stroke="#000" stroke-width="1.3"/>
<text x="2332.7" y="238.4" font-size="37.8" text-anchor="start" letter-spacing="-0.68" stroke="#000" stroke-width="0.3">56</text>
<text y="197.7" stroke="#000" stroke-width="0.3"><tspan x="2372.5" dy="3.4" font-size="41.5">(</tspan><tspan x="2388.5" dy="-3.4" font-size="38.2" textLength="42.8" lengthAdjust="spacingAndGlyphs">%</tspan><tspan x="2426.3" dy="3.4" font-size="41.5">)</tspan></text>
</svg></body></html>
